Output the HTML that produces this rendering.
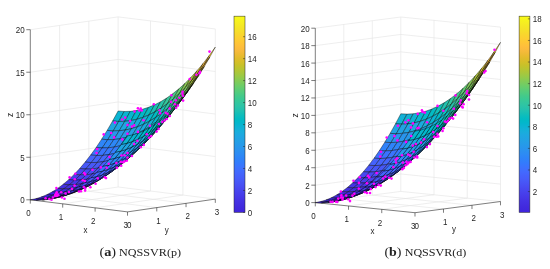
<!DOCTYPE html>
<html><head><meta charset="utf-8"><style>
html,body{margin:0;padding:0;background:#fff;}
body{width:550px;height:269px;overflow:hidden;position:relative;}
svg{position:absolute;left:0;top:0;}
svg text{font-family:"Liberation Sans",Arial,sans-serif;fill:#262626;}
svg text.cap{font-family:"Liberation Serif","Times New Roman",serif;fill:#222;}
</style></head><body>
<svg width="550" height="269" viewBox="0 0 550 269">
<g class="grid" stroke="#e2e2e2" stroke-width="0.6" fill="none">
<line x1="59.57" y1="195.53" x2="59.57" y2="25.43" stroke="#e2e2e2" stroke-width="0.6"/>
<line x1="88.84" y1="191.26" x2="88.84" y2="21.16" stroke="#e2e2e2" stroke-width="0.6"/>
<line x1="118.11" y1="186.99" x2="118.11" y2="16.89" stroke="#e2e2e2" stroke-width="0.6"/>
<line x1="30.30" y1="199.80" x2="118.11" y2="186.99" stroke="#e2e2e2" stroke-width="0.6"/>
<line x1="30.30" y1="157.28" x2="118.11" y2="144.47" stroke="#e2e2e2" stroke-width="0.6"/>
<line x1="30.30" y1="114.75" x2="118.11" y2="101.94" stroke="#e2e2e2" stroke-width="0.6"/>
<line x1="30.30" y1="72.22" x2="118.11" y2="59.41" stroke="#e2e2e2" stroke-width="0.6"/>
<line x1="30.30" y1="29.70" x2="118.11" y2="16.89" stroke="#e2e2e2" stroke-width="0.6"/>
<line x1="150.51" y1="191.02" x2="150.51" y2="20.92" stroke="#e2e2e2" stroke-width="0.6"/>
<line x1="182.91" y1="195.05" x2="182.91" y2="24.95" stroke="#e2e2e2" stroke-width="0.6"/>
<line x1="215.31" y1="199.08" x2="215.31" y2="28.98" stroke="#e2e2e2" stroke-width="0.6"/>
<line x1="118.11" y1="186.99" x2="215.31" y2="199.08" stroke="#e2e2e2" stroke-width="0.6"/>
<line x1="118.11" y1="144.47" x2="215.31" y2="156.56" stroke="#e2e2e2" stroke-width="0.6"/>
<line x1="118.11" y1="101.94" x2="215.31" y2="114.03" stroke="#e2e2e2" stroke-width="0.6"/>
<line x1="118.11" y1="59.41" x2="215.31" y2="71.50" stroke="#e2e2e2" stroke-width="0.6"/>
<line x1="118.11" y1="16.89" x2="215.31" y2="28.98" stroke="#e2e2e2" stroke-width="0.6"/>
<line x1="62.70" y1="203.83" x2="150.51" y2="191.02" stroke="#e2e2e2" stroke-width="0.6"/>
<line x1="95.10" y1="207.86" x2="182.91" y2="195.05" stroke="#e2e2e2" stroke-width="0.6"/>
<line x1="59.57" y1="195.53" x2="156.77" y2="207.62" stroke="#e2e2e2" stroke-width="0.6"/>
<line x1="88.84" y1="191.26" x2="186.04" y2="203.35" stroke="#e2e2e2" stroke-width="0.6"/>
</g>
<line x1="30.30" y1="199.80" x2="30.30" y2="29.70" stroke="#262626" stroke-width="0.6"/>
<line x1="30.30" y1="199.80" x2="127.50" y2="211.89" stroke="#262626" stroke-width="0.6"/>
<line x1="127.50" y1="211.89" x2="215.31" y2="199.08" stroke="#262626" stroke-width="0.6"/>
<line x1="30.30" y1="199.80" x2="26.30" y2="199.80" stroke="#262626" stroke-width="0.6"/>
<text transform="translate(24.70 200.00) scale(1 1.18)" font-size="8" text-anchor="end" dominant-baseline="central">0</text>
<line x1="30.30" y1="157.28" x2="26.30" y2="157.28" stroke="#262626" stroke-width="0.6"/>
<text transform="translate(24.70 157.47) scale(1 1.18)" font-size="8" text-anchor="end" dominant-baseline="central">5</text>
<line x1="30.30" y1="114.75" x2="26.30" y2="114.75" stroke="#262626" stroke-width="0.6"/>
<text transform="translate(24.70 114.95) scale(1 1.18)" font-size="8" text-anchor="end" dominant-baseline="central">10</text>
<line x1="30.30" y1="72.22" x2="26.30" y2="72.22" stroke="#262626" stroke-width="0.6"/>
<text transform="translate(24.70 72.42) scale(1 1.18)" font-size="8" text-anchor="end" dominant-baseline="central">15</text>
<line x1="30.30" y1="29.70" x2="26.30" y2="29.70" stroke="#262626" stroke-width="0.6"/>
<text transform="translate(24.70 29.90) scale(1 1.18)" font-size="8" text-anchor="end" dominant-baseline="central">20</text>
<line x1="30.30" y1="199.80" x2="30.30" y2="203.60" stroke="#262626" stroke-width="0.6"/>
<text transform="translate(28.50 212.80) scale(1 1.18)" font-size="8" text-anchor="middle" dominant-baseline="central">0</text>
<line x1="62.70" y1="203.83" x2="62.70" y2="207.63" stroke="#262626" stroke-width="0.6"/>
<text transform="translate(60.90 216.83) scale(1 1.18)" font-size="8" text-anchor="middle" dominant-baseline="central">1</text>
<line x1="95.10" y1="207.86" x2="95.10" y2="211.66" stroke="#262626" stroke-width="0.6"/>
<text transform="translate(93.30 220.86) scale(1 1.18)" font-size="8" text-anchor="middle" dominant-baseline="central">2</text>
<line x1="127.50" y1="211.89" x2="127.50" y2="215.69" stroke="#262626" stroke-width="0.6"/>
<text transform="translate(125.70 224.89) scale(1 1.18)" font-size="8" text-anchor="middle" dominant-baseline="central">3</text>
<text transform="translate(129.10 224.69) scale(1 1.18)" font-size="8" text-anchor="middle" dominant-baseline="central">0</text>
<line x1="156.77" y1="207.62" x2="156.77" y2="211.42" stroke="#262626" stroke-width="0.6"/>
<text transform="translate(158.37 220.42) scale(1 1.18)" font-size="8" text-anchor="middle" dominant-baseline="central">1</text>
<line x1="186.04" y1="203.35" x2="186.04" y2="207.15" stroke="#262626" stroke-width="0.6"/>
<text transform="translate(187.64 216.15) scale(1 1.18)" font-size="8" text-anchor="middle" dominant-baseline="central">2</text>
<line x1="215.31" y1="199.08" x2="215.31" y2="202.88" stroke="#262626" stroke-width="0.6"/>
<text transform="translate(216.91 211.88) scale(1 1.18)" font-size="8" text-anchor="middle" dominant-baseline="central">3</text>
<text transform="translate(85.60 230.10) scale(1 1.18)" font-size="8" text-anchor="middle" dominant-baseline="central">x</text>
<text transform="translate(166.70 229.50) scale(1 1.18)" font-size="8" text-anchor="middle" dominant-baseline="central">y</text>
<text transform="translate(9.50 115.00) rotate(-90) scale(1 1.18)" font-size="8.3" text-anchor="middle" dominant-baseline="central">z</text>
<g stroke="#000" stroke-width="0.4" stroke-linejoin="round">
<polygon points="112.62,121.00 118.70,121.46 124.19,111.46 118.11,111.00" fill="#0bb4d2"/>
<polygon points="107.13,130.41 113.21,130.87 118.70,121.46 112.62,121.00" fill="#1fa5e2"/>
<polygon points="118.70,121.46 124.77,121.32 130.26,111.32 124.19,111.46" fill="#09b4d1"/>
<polygon points="101.65,139.23 107.72,139.68 113.21,130.87 107.13,130.41" fill="#2895ec"/>
<polygon points="113.21,130.87 119.28,130.73 124.77,121.32 118.70,121.46" fill="#1fa6e2"/>
<polygon points="124.77,121.32 130.85,120.60 136.34,110.59 130.26,111.32" fill="#06b5cf"/>
<polygon points="96.16,147.45 102.23,147.91 107.72,139.68 101.65,139.23" fill="#2e85f8"/>
<polygon points="107.72,139.68 113.80,139.55 119.28,130.73 113.21,130.87" fill="#2896eb"/>
<polygon points="119.28,130.73 125.36,130.01 130.85,120.60 124.77,121.32" fill="#1ea7e1"/>
<polygon points="130.85,120.60 136.92,119.27 142.41,109.27 136.34,110.59" fill="#02b7cb"/>
<polygon points="90.67,155.07 96.74,155.53 102.23,147.91 96.16,147.45" fill="#3975fe"/>
<polygon points="102.23,147.91 108.31,147.77 113.80,139.55 107.72,139.68" fill="#2e86f7"/>
<polygon points="113.80,139.55 119.87,138.82 125.36,130.01 119.28,130.73" fill="#2798ea"/>
<polygon points="125.36,130.01 131.43,128.68 136.92,119.27 130.85,120.60" fill="#1baadf"/>
<polygon points="136.92,119.27 143.00,117.36 148.49,107.35 142.41,109.27" fill="#01b9c6"/>
<polygon points="96.74,155.53 102.82,155.40 108.31,147.77 102.23,147.91" fill="#3875fe"/>
<polygon points="85.18,162.11 91.26,162.57 96.74,155.53 90.67,155.07" fill="#4465fd"/>
<polygon points="108.31,147.77 114.38,147.04 119.87,138.82 113.80,139.55" fill="#2d88f6"/>
<polygon points="119.87,138.82 125.95,137.50 131.43,128.68 125.36,130.01" fill="#259be8"/>
<polygon points="131.43,128.68 137.51,126.77 143.00,117.36 136.92,119.27" fill="#18aedb"/>
<polygon points="143.00,117.36 149.07,114.85 154.56,104.85 148.49,107.35" fill="#09bcbe"/>
<polygon points="91.26,162.57 97.33,162.43 102.82,155.40 96.74,155.53" fill="#4466fd"/>
<polygon points="102.82,155.40 108.89,154.67 114.38,147.04 108.31,147.77" fill="#3678fe"/>
<polygon points="79.69,168.55 85.77,169.01 91.26,162.57 85.18,162.11" fill="#4758f8"/>
<polygon points="114.38,147.04 120.46,145.72 125.95,137.50 119.87,138.82" fill="#2d8bf3"/>
<polygon points="125.95,137.50 132.02,135.58 137.51,126.77 131.43,128.68" fill="#249fe5"/>
<polygon points="137.51,126.77 143.58,124.26 149.07,114.85 143.00,117.36" fill="#10b2d5"/>
<polygon points="149.07,114.85 155.15,111.74 160.63,101.74 154.56,104.85" fill="#1abfb5"/>
<polygon points="97.33,162.43 103.41,161.70 108.89,154.67 102.82,155.40" fill="#4368fe"/>
<polygon points="85.77,169.01 91.84,168.87 97.33,162.43 91.26,162.57" fill="#4758f8"/>
<polygon points="108.89,154.67 114.97,153.35 120.46,145.72 114.38,147.04" fill="#327cfc"/>
<polygon points="74.20,174.40 80.28,174.86 85.77,169.01 79.69,168.55" fill="#484af1"/>
<polygon points="120.46,145.72 126.53,143.80 132.02,135.58 125.95,137.50" fill="#2c90f0"/>
<polygon points="132.02,135.58 138.10,133.07 143.58,124.26 137.51,126.77" fill="#20a4e3"/>
<polygon points="143.58,124.26 149.66,121.15 155.15,111.74 149.07,114.85" fill="#04b6cd"/>
<polygon points="155.15,111.74 161.22,108.05 166.71,98.04 160.63,101.74" fill="#2ac3a9"/>
<polygon points="91.84,168.87 97.92,168.15 103.41,161.70 97.33,162.43" fill="#475af9"/>
<polygon points="103.41,161.70 109.48,160.38 114.97,153.35 108.89,154.67" fill="#416cfe"/>
<polygon points="80.28,174.86 86.36,174.72 91.84,168.87 85.77,169.01" fill="#484bf2"/>
<polygon points="114.97,153.35 121.04,151.43 126.53,143.80 120.46,145.72" fill="#2f81fa"/>
<polygon points="68.72,179.65 74.79,180.11 80.28,174.86 74.20,174.40" fill="#473fec"/>
<polygon points="126.53,143.80 132.61,141.29 138.10,133.07 132.02,135.58" fill="#2895ec"/>
<polygon points="138.10,133.07 144.17,129.97 149.66,121.15 143.58,124.26" fill="#1baadf"/>
<polygon points="149.66,121.15 155.73,117.46 161.22,108.05 155.15,111.74" fill="#03bbc2"/>
<polygon points="161.22,108.05 167.30,103.76 172.78,93.75 166.71,98.04" fill="#35c79b"/>
<polygon points="97.92,168.15 103.99,166.82 109.48,160.38 103.41,161.70" fill="#465efb"/>
<polygon points="86.36,174.72 92.43,173.99 97.92,168.15 91.84,168.87" fill="#484ef3"/>
<polygon points="109.48,160.38 115.56,158.47 121.04,151.43 114.97,153.35" fill="#3d71ff"/>
<polygon points="74.79,180.11 80.87,179.97 86.36,174.72 80.28,174.86" fill="#4740ec"/>
<polygon points="121.04,151.43 127.12,148.92 132.61,141.29 126.53,143.80" fill="#2e87f7"/>
<polygon points="63.23,184.31 69.30,184.77 74.79,180.11 68.72,179.65" fill="#4536e6"/>
<polygon points="132.61,141.29 138.68,138.19 144.17,129.97 138.10,133.07" fill="#259ce7"/>
<polygon points="144.17,129.97 150.25,126.27 155.73,117.46 149.66,121.15" fill="#13b1d7"/>
<polygon points="155.73,117.46 161.81,113.17 167.30,103.76 161.22,108.05" fill="#18bfb6"/>
<polygon points="167.30,103.76 173.37,98.87 178.86,88.87 172.78,93.75" fill="#46cb88"/>
<polygon points="92.43,173.99 98.50,172.67 103.99,166.82 97.92,168.15" fill="#4851f5"/>
<polygon points="103.99,166.82 110.07,164.91 115.56,158.47 109.48,160.38" fill="#4563fc"/>
<polygon points="80.87,179.97 86.94,179.25 92.43,173.99 86.36,174.72" fill="#4742ed"/>
<polygon points="115.56,158.47 121.63,155.96 127.12,148.92 121.04,151.43" fill="#3678fe"/>
<polygon points="69.30,184.77 75.38,184.63 80.87,179.97 74.79,180.11" fill="#4637e6"/>
<polygon points="127.12,148.92 133.19,145.82 138.68,138.19 132.61,141.29" fill="#2c8ef1"/>
<polygon points="57.74,188.38 63.82,188.83 69.30,184.77 63.23,184.31" fill="#4430e1"/>
<polygon points="138.68,138.19 144.76,134.49 150.25,126.27 144.17,129.97" fill="#21a4e3"/>
<polygon points="150.25,126.27 156.32,121.98 161.81,113.17 155.73,117.46" fill="#03b7cc"/>
<polygon points="161.81,113.17 167.88,108.28 173.37,98.87 167.30,103.76" fill="#2cc4a6"/>
<polygon points="173.37,98.87 179.45,93.39 184.94,83.39 178.86,88.87" fill="#64cd6f"/>
<polygon points="98.50,172.67 104.58,170.75 110.07,164.91 103.99,166.82" fill="#4757f7"/>
<polygon points="86.94,179.25 93.02,177.92 98.50,172.67 92.43,173.99" fill="#4846ef"/>
<polygon points="110.07,164.91 116.14,162.40 121.63,155.96 115.56,158.47" fill="#4269fe"/>
<polygon points="75.38,184.63 81.45,183.91 86.94,179.25 80.87,179.97" fill="#4639e8"/>
<polygon points="121.63,155.96 127.71,152.85 133.19,145.82 127.12,148.92" fill="#3080fa"/>
<polygon points="63.82,188.83 69.89,188.70 75.38,184.63 69.30,184.77" fill="#4430e1"/>
<polygon points="133.19,145.82 139.27,142.12 144.76,134.49 138.68,138.19" fill="#2896eb"/>
<polygon points="52.25,191.85 58.33,192.31 63.82,188.83 57.74,188.38" fill="#422bde"/>
<polygon points="144.76,134.49 150.83,130.20 156.32,121.98 150.25,126.27" fill="#1aacdd"/>
<polygon points="156.32,121.98 162.40,117.10 167.88,108.28 161.81,113.17" fill="#09bcbe"/>
<polygon points="167.88,108.28 173.96,102.80 179.45,93.39 173.37,98.87" fill="#3ac993"/>
<polygon points="179.45,93.39 185.52,87.32 191.01,77.32 184.94,83.39" fill="#89cb52"/>
<polygon points="93.02,177.92 99.09,176.01 104.58,170.75 98.50,172.67" fill="#484bf2"/>
<polygon points="104.58,170.75 110.66,168.24 116.14,162.40 110.07,164.91" fill="#465dfb"/>
<polygon points="81.45,183.91 87.53,182.58 93.02,177.92 86.94,179.25" fill="#473cea"/>
<polygon points="116.14,162.40 122.22,159.29 127.71,152.85 121.63,155.96" fill="#3c72ff"/>
<polygon points="69.89,188.70 75.97,187.97 81.45,183.91 75.38,184.63" fill="#4432e3"/>
<polygon points="127.71,152.85 133.78,149.16 139.27,142.12 133.19,145.82" fill="#2d89f6"/>
<polygon points="58.33,192.31 64.40,192.17 69.89,188.70 63.82,188.83" fill="#422bde"/>
<polygon points="139.27,142.12 145.34,137.83 150.83,130.20 144.76,134.49" fill="#249fe5"/>
<polygon points="46.76,194.73 52.84,195.19 58.33,192.31 52.25,191.85" fill="#4027dd"/>
<polygon points="150.83,130.20 156.91,125.32 162.40,117.10 156.32,121.98" fill="#0bb4d2"/>
<polygon points="162.40,117.10 168.47,111.62 173.96,102.80 167.88,108.28" fill="#25c2ae"/>
<polygon points="173.96,102.80 180.03,96.73 185.52,87.32 179.45,93.39" fill="#57cc7a"/>
<polygon points="185.52,87.32 191.60,80.66 197.08,70.65 191.01,77.32" fill="#b1c636"/>
<polygon points="99.09,176.01 105.17,173.50 110.66,168.24 104.58,170.75" fill="#4852f5"/>
<polygon points="87.53,182.58 93.60,180.67 99.09,176.01 93.02,177.92" fill="#4741ed"/>
<polygon points="110.66,168.24 116.73,165.14 122.22,159.29 116.14,162.40" fill="#4465fd"/>
<polygon points="75.97,187.97 82.04,186.65 87.53,182.58 81.45,183.91" fill="#4535e5"/>
<polygon points="122.22,159.29 128.29,155.60 133.78,149.16 127.71,152.85" fill="#327cfc"/>
<polygon points="64.40,192.17 70.48,191.44 75.97,187.97 69.89,188.70" fill="#432ddf"/>
<polygon points="133.78,149.16 139.86,144.87 145.34,137.83 139.27,142.12" fill="#2a92ee"/>
<polygon points="52.84,195.19 58.91,195.05 64.40,192.17 58.33,192.31" fill="#4028dd"/>
<polygon points="145.34,137.83 151.42,132.95 156.91,125.32 150.83,130.20" fill="#1da9e0"/>
<polygon points="41.28,197.01 47.35,197.47 52.84,195.19 46.76,194.73" fill="#3f25dc"/>
<polygon points="156.91,125.32 162.98,119.84 168.47,111.62 162.40,117.10" fill="#02bbc3"/>
<polygon points="168.47,111.62 174.55,105.55 180.03,96.73 173.96,102.80" fill="#35c79a"/>
<polygon points="180.03,96.73 186.11,90.07 191.60,80.66 185.52,87.32" fill="#7ecc5b"/>
<polygon points="191.60,80.66 197.67,73.40 203.16,63.40 197.08,70.65" fill="#d6be28"/>
<polygon points="93.60,180.67 99.68,178.16 105.17,173.50 99.09,176.01" fill="#4848f0"/>
<polygon points="105.17,173.50 111.24,170.39 116.73,165.14 110.66,168.24" fill="#475af9"/>
<polygon points="82.04,186.65 88.12,184.73 93.60,180.67 87.53,182.58" fill="#4639e8"/>
<polygon points="116.73,165.14 122.80,161.44 128.29,155.60 122.22,159.29" fill="#3f6fff"/>
<polygon points="70.48,191.44 76.55,190.12 82.04,186.65 75.97,187.97" fill="#4430e1"/>
<polygon points="128.29,155.60 134.37,151.31 139.86,144.87 133.78,149.16" fill="#2e86f7"/>
<polygon points="58.91,195.05 64.99,194.32 70.48,191.44 64.40,192.17" fill="#4129dd"/>
<polygon points="139.86,144.87 145.93,139.98 151.42,132.95 145.34,137.83" fill="#259de7"/>
<polygon points="47.35,197.47 53.43,197.34 58.91,195.05 52.84,195.19" fill="#3f25dc"/>
<polygon points="151.42,132.95 157.49,127.47 162.98,119.84 156.91,125.32" fill="#10b2d5"/>
<polygon points="35.79,198.70 41.86,199.16 47.35,197.47 41.28,197.01" fill="#3e23dc"/>
<polygon points="162.98,119.84 169.06,113.77 174.55,105.55 168.47,111.62" fill="#1fc1b1"/>
<polygon points="174.55,105.55 180.62,98.88 186.11,90.07 180.03,96.73" fill="#51cc7f"/>
<polygon points="186.11,90.07 192.18,82.81 197.67,73.40 191.60,80.66" fill="#aac73a"/>
<polygon points="197.67,73.40 203.75,65.55 209.24,55.54 203.16,63.40" fill="#f6ba3c"/>
<polygon points="99.68,178.16 105.75,175.05 111.24,170.39 105.17,173.50" fill="#4851f4"/>
<polygon points="88.12,184.73 94.19,182.22 99.68,178.16 93.60,180.67" fill="#4740ec"/>
<polygon points="111.24,170.39 117.32,166.70 122.80,161.44 116.73,165.14" fill="#4564fd"/>
<polygon points="76.55,190.12 82.63,188.21 88.12,184.73 82.04,186.65" fill="#4533e4"/>
<polygon points="122.80,161.44 128.88,157.15 134.37,151.31 128.29,155.60" fill="#347afd"/>
<polygon points="64.99,194.32 71.06,193.00 76.55,190.12 70.48,191.44" fill="#422cdf"/>
<polygon points="134.37,151.31 140.44,146.42 145.93,139.98 139.86,144.87" fill="#2b91ef"/>
<polygon points="53.43,197.34 59.50,196.61 64.99,194.32 58.91,195.05" fill="#4027dd"/>
<polygon points="145.93,139.98 152.01,134.50 157.49,127.47 151.42,132.95" fill="#1ea7e1"/>
<polygon points="41.86,199.16 47.94,199.03 53.43,197.34 47.35,197.47" fill="#3e24dc"/>
<polygon points="157.49,127.47 163.57,121.40 169.06,113.77 162.98,119.84" fill="#02bac5"/>
<polygon points="30.30,199.80 36.38,200.26 41.86,199.16 35.79,198.70" fill="#3e23dc"/>
<polygon points="169.06,113.77 175.13,107.10 180.62,98.88 174.55,105.55" fill="#34c79c"/>
<polygon points="180.62,98.88 186.70,91.62 192.18,82.81 186.11,90.07" fill="#7acc5d"/>
<polygon points="192.18,82.81 198.26,74.95 203.75,65.55 197.67,73.40" fill="#d4bf28"/>
<polygon points="203.75,65.55 209.82,57.10 215.31,47.10 209.24,55.54" fill="#fdcc32"/>
<polygon points="94.19,182.22 100.27,179.12 105.75,175.05 99.68,178.16" fill="#4848f0"/>
<polygon points="105.75,175.05 111.83,171.36 117.32,166.70 111.24,170.39" fill="#475af9"/>
<polygon points="82.63,188.21 88.70,185.70 94.19,182.22 88.12,184.73" fill="#4639e8"/>
<polygon points="117.32,166.70 123.39,162.41 128.88,157.15 122.80,161.44" fill="#3f6fff"/>
<polygon points="71.06,193.00 77.14,191.08 82.63,188.21 76.55,190.12" fill="#4430e1"/>
<polygon points="128.88,157.15 134.95,152.27 140.44,146.42 134.37,151.31" fill="#2e86f7"/>
<polygon points="59.50,196.61 65.58,195.28 71.06,193.00 64.99,194.32" fill="#4129dd"/>
<polygon points="140.44,146.42 146.52,140.94 152.01,134.50 145.93,139.98" fill="#259de7"/>
<polygon points="47.94,199.03 54.01,198.30 59.50,196.61 53.43,197.34" fill="#3f25dc"/>
<polygon points="152.01,134.50 158.08,128.43 163.57,121.40 157.49,127.47" fill="#10b2d5"/>
<polygon points="36.38,200.26 42.45,200.12 47.94,199.03 41.86,199.16" fill="#3e23dc"/>
<polygon points="163.57,121.40 169.64,114.73 175.13,107.10 169.06,113.77" fill="#1fc1b1"/>
<polygon points="175.13,107.10 181.21,99.84 186.70,91.62 180.62,98.88" fill="#51cc7f"/>
<polygon points="186.70,91.62 192.77,83.77 198.26,74.95 192.18,82.81" fill="#aac73a"/>
<polygon points="198.26,74.95 204.33,66.51 209.82,57.10 203.75,65.55" fill="#f6ba3c"/>
<polygon points="100.27,179.12 106.34,175.42 111.83,171.36 105.75,175.05" fill="#4852f5"/>
<polygon points="88.70,185.70 94.78,182.59 100.27,179.12 94.19,182.22" fill="#4741ed"/>
<polygon points="111.83,171.36 117.90,167.07 123.39,162.41 117.32,166.70" fill="#4465fd"/>
<polygon points="77.14,191.08 83.21,188.57 88.70,185.70 82.63,188.21" fill="#4535e5"/>
<polygon points="123.39,162.41 129.47,157.52 134.95,152.27 128.88,157.15" fill="#327cfc"/>
<polygon points="65.58,195.28 71.65,193.37 77.14,191.08 71.06,193.00" fill="#432ddf"/>
<polygon points="134.95,152.27 141.03,146.79 146.52,140.94 140.44,146.42" fill="#2a92ee"/>
<polygon points="54.01,198.30 60.09,196.98 65.58,195.28 59.50,196.61" fill="#4028dd"/>
<polygon points="146.52,140.94 152.59,134.87 158.08,128.43 152.01,134.50" fill="#1da9e0"/>
<polygon points="42.45,200.12 48.52,199.40 54.01,198.30 47.94,199.03" fill="#3f25dc"/>
<polygon points="158.08,128.43 164.16,121.77 169.64,114.73 163.57,121.40" fill="#02bbc3"/>
<polygon points="169.64,114.73 175.72,107.47 181.21,99.84 175.13,107.10" fill="#35c79a"/>
<polygon points="181.21,99.84 187.28,91.99 192.77,83.77 186.70,91.62" fill="#7ecc5b"/>
<polygon points="192.77,83.77 198.85,75.32 204.33,66.51 198.26,74.95" fill="#d6be28"/>
<polygon points="94.78,182.59 100.85,178.89 106.34,175.42 100.27,179.12" fill="#484bf2"/>
<polygon points="106.34,175.42 112.42,171.13 117.90,167.07 111.83,171.36" fill="#465dfb"/>
<polygon points="83.21,188.57 89.29,185.47 94.78,182.59 88.70,185.70" fill="#473cea"/>
<polygon points="117.90,167.07 123.98,162.18 129.47,157.52 123.39,162.41" fill="#3c72ff"/>
<polygon points="71.65,193.37 77.73,190.86 83.21,188.57 77.14,191.08" fill="#4432e3"/>
<polygon points="129.47,157.52 135.54,152.04 141.03,146.79 134.95,152.27" fill="#2d89f6"/>
<polygon points="60.09,196.98 66.16,195.06 71.65,193.37 65.58,195.28" fill="#422bde"/>
<polygon points="141.03,146.79 147.10,140.72 152.59,134.87 146.52,140.94" fill="#249fe5"/>
<polygon points="48.52,199.40 54.60,198.07 60.09,196.98 54.01,198.30" fill="#4027dd"/>
<polygon points="152.59,134.87 158.67,128.21 164.16,121.77 158.08,128.43" fill="#0bb4d2"/>
<polygon points="164.16,121.77 170.23,114.51 175.72,107.47 169.64,114.73" fill="#25c2ae"/>
<polygon points="175.72,107.47 181.79,99.62 187.28,91.99 181.21,99.84" fill="#57cc7a"/>
<polygon points="187.28,91.99 193.36,83.54 198.85,75.32 192.77,83.77" fill="#b1c636"/>
<polygon points="100.85,178.89 106.93,174.60 112.42,171.13 106.34,175.42" fill="#4757f7"/>
<polygon points="89.29,185.47 95.36,181.77 100.85,178.89 94.78,182.59" fill="#4846ef"/>
<polygon points="112.42,171.13 118.49,166.25 123.98,162.18 117.90,167.07" fill="#4269fe"/>
<polygon points="77.73,190.86 83.80,187.76 89.29,185.47 83.21,188.57" fill="#4639e8"/>
<polygon points="123.98,162.18 130.05,156.70 135.54,152.04 129.47,157.52" fill="#3080fa"/>
<polygon points="66.16,195.06 72.24,192.55 77.73,190.86 71.65,193.37" fill="#4430e1"/>
<polygon points="135.54,152.04 141.62,145.97 147.10,140.72 141.03,146.79" fill="#2896eb"/>
<polygon points="54.60,198.07 60.67,196.16 66.16,195.06 60.09,196.98" fill="#422bde"/>
<polygon points="147.10,140.72 153.18,134.05 158.67,128.21 152.59,134.87" fill="#1aacdd"/>
<polygon points="158.67,128.21 164.74,120.95 170.23,114.51 164.16,121.77" fill="#09bcbe"/>
<polygon points="170.23,114.51 176.31,106.65 181.79,99.62 175.72,107.47" fill="#3ac993"/>
<polygon points="181.79,99.62 187.87,91.17 193.36,83.54 187.28,91.99" fill="#89cb52"/>
<polygon points="95.36,181.77 101.44,177.48 106.93,174.60 100.85,178.89" fill="#4851f5"/>
<polygon points="106.93,174.60 113.00,169.72 118.49,166.25 112.42,171.13" fill="#4563fc"/>
<polygon points="83.80,187.76 89.88,184.06 95.36,181.77 89.29,185.47" fill="#4742ed"/>
<polygon points="118.49,166.25 124.57,160.77 130.05,156.70 123.98,162.18" fill="#3678fe"/>
<polygon points="72.24,192.55 78.31,189.45 83.80,187.76 77.73,190.86" fill="#4637e6"/>
<polygon points="130.05,156.70 136.13,150.63 141.62,145.97 135.54,152.04" fill="#2c8ef1"/>
<polygon points="60.67,196.16 66.75,193.65 72.24,192.55 66.16,195.06" fill="#4430e1"/>
<polygon points="141.62,145.97 147.69,139.31 153.18,134.05 147.10,140.72" fill="#21a4e3"/>
<polygon points="153.18,134.05 159.25,126.79 164.74,120.95 158.67,128.21" fill="#03b7cc"/>
<polygon points="164.74,120.95 170.82,113.09 176.31,106.65 170.23,114.51" fill="#2cc4a6"/>
<polygon points="176.31,106.65 182.38,98.21 187.87,91.17 181.79,99.62" fill="#64cd6f"/>
<polygon points="101.44,177.48 107.51,172.60 113.00,169.72 106.93,174.60" fill="#465efb"/>
<polygon points="89.88,184.06 95.95,179.77 101.44,177.48 95.36,181.77" fill="#484ef3"/>
<polygon points="113.00,169.72 119.08,164.24 124.57,160.77 118.49,166.25" fill="#3d71ff"/>
<polygon points="78.31,189.45 84.39,185.75 89.88,184.06 83.80,187.76" fill="#4740ec"/>
<polygon points="124.57,160.77 130.64,154.70 136.13,150.63 130.05,156.70" fill="#2e87f7"/>
<polygon points="66.75,193.65 72.83,190.54 78.31,189.45 72.24,192.55" fill="#4536e6"/>
<polygon points="136.13,150.63 142.20,143.97 147.69,139.31 141.62,145.97" fill="#259ce7"/>
<polygon points="147.69,139.31 153.77,132.05 159.25,126.79 153.18,134.05" fill="#13b1d7"/>
<polygon points="159.25,126.79 165.33,118.94 170.82,113.09 164.74,120.95" fill="#18bfb6"/>
<polygon points="170.82,113.09 176.89,104.65 182.38,98.21 176.31,106.65" fill="#46cb88"/>
<polygon points="95.95,179.77 102.03,174.88 107.51,172.60 101.44,177.48" fill="#475af9"/>
<polygon points="107.51,172.60 113.59,167.12 119.08,164.24 113.00,169.72" fill="#416cfe"/>
<polygon points="84.39,185.75 90.46,181.46 95.95,179.77 89.88,184.06" fill="#484bf2"/>
<polygon points="119.08,164.24 125.15,158.17 130.64,154.70 124.57,160.77" fill="#2f81fa"/>
<polygon points="72.83,190.54 78.90,186.85 84.39,185.75 78.31,189.45" fill="#473fec"/>
<polygon points="130.64,154.70 136.72,148.03 142.20,143.97 136.13,150.63" fill="#2895ec"/>
<polygon points="142.20,143.97 148.28,136.71 153.77,132.05 147.69,139.31" fill="#1baadf"/>
<polygon points="153.77,132.05 159.84,124.19 165.33,118.94 159.25,126.79" fill="#03bbc2"/>
<polygon points="165.33,118.94 171.40,110.49 176.89,104.65 170.82,113.09" fill="#35c79b"/>
<polygon points="102.03,174.88 108.10,169.41 113.59,167.12 107.51,172.60" fill="#4368fe"/>
<polygon points="90.46,181.46 96.54,176.57 102.03,174.88 95.95,179.77" fill="#4758f8"/>
<polygon points="113.59,167.12 119.66,161.05 125.15,158.17 119.08,164.24" fill="#327cfc"/>
<polygon points="78.90,186.85 84.97,182.56 90.46,181.46 84.39,185.75" fill="#484af1"/>
<polygon points="125.15,158.17 131.23,151.50 136.72,148.03 130.64,154.70" fill="#2c90f0"/>
<polygon points="136.72,148.03 142.79,140.77 148.28,136.71 142.20,143.97" fill="#20a4e3"/>
<polygon points="148.28,136.71 154.35,128.85 159.84,124.19 153.77,132.05" fill="#04b6cd"/>
<polygon points="159.84,124.19 165.92,115.75 171.40,110.49 165.33,118.94" fill="#2ac3a9"/>
<polygon points="96.54,176.57 102.61,171.10 108.10,169.41 102.03,174.88" fill="#4466fd"/>
<polygon points="108.10,169.41 114.18,163.33 119.66,161.05 113.59,167.12" fill="#3678fe"/>
<polygon points="84.97,182.56 91.05,177.67 96.54,176.57 90.46,181.46" fill="#4758f8"/>
<polygon points="119.66,161.05 125.74,154.38 131.23,151.50 125.15,158.17" fill="#2d8bf3"/>
<polygon points="131.23,151.50 137.30,144.25 142.79,140.77 136.72,148.03" fill="#249fe5"/>
<polygon points="142.79,140.77 148.87,132.92 154.35,128.85 148.28,136.71" fill="#10b2d5"/>
<polygon points="154.35,128.85 160.43,120.41 165.92,115.75 159.84,124.19" fill="#1abfb5"/>
<polygon points="102.61,171.10 108.69,165.02 114.18,163.33 108.10,169.41" fill="#3875fe"/>
<polygon points="91.05,177.67 97.12,172.19 102.61,171.10 96.54,176.57" fill="#4465fd"/>
<polygon points="114.18,163.33 120.25,156.67 125.74,154.38 119.66,161.05" fill="#2d88f6"/>
<polygon points="125.74,154.38 131.81,147.12 137.30,144.25 131.23,151.50" fill="#259be8"/>
<polygon points="137.30,144.25 143.38,136.39 148.87,132.92 142.79,140.77" fill="#18aedb"/>
<polygon points="148.87,132.92 154.94,124.47 160.43,120.41 154.35,128.85" fill="#09bcbe"/>
<polygon points="97.12,172.19 103.20,166.12 108.69,165.02 102.61,171.10" fill="#3975fe"/>
<polygon points="108.69,165.02 114.76,158.36 120.25,156.67 114.18,163.33" fill="#2e86f7"/>
<polygon points="120.25,156.67 126.33,149.41 131.81,147.12 125.74,154.38" fill="#2798ea"/>
<polygon points="131.81,147.12 137.89,139.27 143.38,136.39 137.30,144.25" fill="#1baadf"/>
<polygon points="143.38,136.39 149.45,127.95 154.94,124.47 148.87,132.92" fill="#01b9c6"/>
<polygon points="103.20,166.12 109.27,159.46 114.76,158.36 108.69,165.02" fill="#2e85f8"/>
<polygon points="114.76,158.36 120.84,151.10 126.33,149.41 120.25,156.67" fill="#2896eb"/>
<polygon points="126.33,149.41 132.40,141.56 137.89,139.27 131.81,147.12" fill="#1ea7e1"/>
<polygon points="137.89,139.27 143.96,130.82 149.45,127.95 143.38,136.39" fill="#02b7cb"/>
<polygon points="109.27,159.46 115.35,152.20 120.84,151.10 114.76,158.36" fill="#2895ec"/>
<polygon points="120.84,151.10 126.91,143.25 132.40,141.56 126.33,149.41" fill="#1fa6e2"/>
<polygon points="132.40,141.56 138.48,133.11 143.96,130.82 137.89,139.27" fill="#06b5cf"/>
<polygon points="115.35,152.20 121.42,144.34 126.91,143.25 120.84,151.10" fill="#1fa5e2"/>
<polygon points="126.91,143.25 132.99,134.80 138.48,133.11 132.40,141.56" fill="#09b4d1"/>
<polygon points="121.42,144.34 127.50,135.90 132.99,134.80 126.91,143.25" fill="#0bb4d2"/>
</g>
<g fill="#ff00ff">
<circle cx="69.6" cy="177.4" r="1.3"/>
<circle cx="75.4" cy="173.8" r="1.3"/>
<circle cx="84.2" cy="173.0" r="1.3"/>
<circle cx="85.2" cy="174.4" r="1.3"/>
<circle cx="74.8" cy="179.3" r="1.3"/>
<circle cx="82.8" cy="180.3" r="1.3"/>
<circle cx="74.6" cy="185.6" r="1.3"/>
<circle cx="71.9" cy="188.9" r="1.3"/>
<circle cx="68.9" cy="192.0" r="1.3"/>
<circle cx="56.4" cy="188.1" r="1.3"/>
<circle cx="56.7" cy="192.3" r="1.3"/>
<circle cx="61.2" cy="192.3" r="1.3"/>
<circle cx="65.6" cy="193.5" r="1.3"/>
<circle cx="58.2" cy="195.2" r="1.3"/>
<circle cx="55.2" cy="196.0" r="1.3"/>
<circle cx="53.0" cy="197.5" r="1.3"/>
<circle cx="61.9" cy="197.5" r="1.3"/>
<circle cx="64.5" cy="198.7" r="1.3"/>
<circle cx="49.3" cy="199.0" r="1.3"/>
<circle cx="51.5" cy="199.7" r="1.3"/>
<circle cx="45.6" cy="198.2" r="1.3"/>
<circle cx="79.0" cy="191.5" r="1.3"/>
<circle cx="81.0" cy="191.3" r="1.3"/>
<circle cx="85.2" cy="188.6" r="1.3"/>
<circle cx="85.1" cy="190.6" r="1.3"/>
<circle cx="92.5" cy="169.8" r="1.3"/>
<circle cx="84.8" cy="181.0" r="1.3"/>
<circle cx="97.8" cy="178.4" r="1.3"/>
<circle cx="104.8" cy="177.3" r="1.3"/>
<circle cx="106.0" cy="178.1" r="1.3"/>
<circle cx="95.6" cy="183.8" r="1.3"/>
<circle cx="90.4" cy="187.3" r="1.3"/>
<circle cx="100.8" cy="167.4" r="1.3"/>
<circle cx="106.7" cy="167.8" r="1.3"/>
<circle cx="108.7" cy="163.7" r="1.3"/>
<circle cx="116.4" cy="163.1" r="1.3"/>
<circle cx="116.9" cy="167.7" r="1.3"/>
<circle cx="121.2" cy="165.8" r="1.3"/>
<circle cx="123.1" cy="162.2" r="1.3"/>
<circle cx="126.8" cy="160.7" r="1.3"/>
<circle cx="103.7" cy="134.4" r="1.3"/>
<circle cx="111.1" cy="133.0" r="1.3"/>
<circle cx="114.1" cy="137.4" r="1.3"/>
<circle cx="127.5" cy="133.8" r="1.3"/>
<circle cx="137.9" cy="131.9" r="1.3"/>
<circle cx="146.8" cy="134.2" r="1.3"/>
<circle cx="149.0" cy="137.7" r="1.3"/>
<circle cx="151.2" cy="136.1" r="1.3"/>
<circle cx="156.6" cy="131.6" r="1.3"/>
<circle cx="122.3" cy="139.4" r="1.3"/>
<circle cx="137.4" cy="140.9" r="1.3"/>
<circle cx="134.1" cy="144.0" r="1.3"/>
<circle cx="143.8" cy="144.9" r="1.3"/>
<circle cx="140.8" cy="147.3" r="1.3"/>
<circle cx="127.5" cy="153.0" r="1.3"/>
<circle cx="121.5" cy="155.5" r="1.3"/>
<circle cx="124.5" cy="155.2" r="1.3"/>
<circle cx="127.5" cy="157.5" r="1.3"/>
<circle cx="131.9" cy="156.0" r="1.3"/>
<circle cx="109.5" cy="157.0" r="1.3"/>
<circle cx="120.8" cy="161.9" r="1.3"/>
<circle cx="124.5" cy="161.2" r="1.3"/>
<circle cx="153.8" cy="104.3" r="1.3"/>
<circle cx="171.4" cy="95.2" r="1.3"/>
<circle cx="182.7" cy="91.7" r="1.3"/>
<circle cx="183.1" cy="95.7" r="1.3"/>
<circle cx="179.4" cy="97.8" r="1.3"/>
<circle cx="183.1" cy="100.6" r="1.3"/>
<circle cx="175.8" cy="100.3" r="1.3"/>
<circle cx="171.1" cy="101.9" r="1.3"/>
<circle cx="174.9" cy="104.2" r="1.3"/>
<circle cx="177.9" cy="105.6" r="1.3"/>
<circle cx="176.2" cy="107.8" r="1.3"/>
<circle cx="169.7" cy="108.6" r="1.3"/>
<circle cx="159.6" cy="110.3" r="1.3"/>
<circle cx="160.1" cy="113.3" r="1.3"/>
<circle cx="165.7" cy="112.8" r="1.3"/>
<circle cx="169.8" cy="116.0" r="1.3"/>
<circle cx="166.7" cy="119.0" r="1.3"/>
<circle cx="162.3" cy="121.9" r="1.3"/>
<circle cx="158.9" cy="124.0" r="1.3"/>
<circle cx="143.5" cy="120.3" r="1.3"/>
<circle cx="149.9" cy="125.7" r="1.3"/>
<circle cx="141.8" cy="110.5" r="1.3"/>
<circle cx="158.6" cy="128.9" r="1.3"/>
<circle cx="140.7" cy="108.6" r="1.3"/>
<circle cx="137.9" cy="108.2" r="1.3"/>
<circle cx="139.4" cy="110.6" r="1.3"/>
<circle cx="134.6" cy="111.4" r="1.3"/>
<circle cx="125.2" cy="117.5" r="1.3"/>
<circle cx="122.2" cy="119.5" r="1.3"/>
<circle cx="114.9" cy="122.6" r="1.3"/>
<circle cx="130.1" cy="121.1" r="1.3"/>
<circle cx="127.5" cy="125.0" r="1.3"/>
<circle cx="131.9" cy="126.6" r="1.3"/>
<circle cx="134.1" cy="125.4" r="1.3"/>
<circle cx="209.5" cy="51.6" r="1.3"/>
<circle cx="199.4" cy="73.2" r="1.3"/>
<circle cx="200.1" cy="71.9" r="1.3"/>
<circle cx="196.4" cy="74.7" r="1.3"/>
<circle cx="189.7" cy="79.1" r="1.3"/>
<circle cx="182.3" cy="93.8" r="1.3"/>
<circle cx="97.2" cy="149.0" r="1.3"/>
<circle cx="96.6" cy="153.0" r="1.3"/>
<circle cx="167.5" cy="113.7" r="1.3"/>
<circle cx="164.6" cy="120.4" r="1.3"/>
<circle cx="83.8" cy="187.1" r="1.3"/>
<circle cx="56.0" cy="193.8" r="1.3"/>
<circle cx="56.8" cy="196.0" r="1.3"/>
<circle cx="55.2" cy="195.0" r="1.3"/>
<circle cx="57.9" cy="194.6" r="1.3"/>
</g>
<defs><linearGradient id="cb0" x1="0" y1="1" x2="0" y2="0"><stop offset="0.0000" stop-color="#3e23dc"/><stop offset="0.0156" stop-color="#4027dd"/><stop offset="0.0312" stop-color="#422bde"/><stop offset="0.0469" stop-color="#432fe1"/><stop offset="0.0625" stop-color="#4533e4"/><stop offset="0.0781" stop-color="#4639e8"/><stop offset="0.0938" stop-color="#473eeb"/><stop offset="0.1094" stop-color="#4744ee"/><stop offset="0.1250" stop-color="#484af1"/><stop offset="0.1406" stop-color="#4851f4"/><stop offset="0.1562" stop-color="#4757f7"/><stop offset="0.1719" stop-color="#475dfa"/><stop offset="0.1875" stop-color="#4562fc"/><stop offset="0.2031" stop-color="#4368fe"/><stop offset="0.2188" stop-color="#3f6efe"/><stop offset="0.2344" stop-color="#3a74fe"/><stop offset="0.2500" stop-color="#347afd"/><stop offset="0.2656" stop-color="#3080fa"/><stop offset="0.2812" stop-color="#2e85f8"/><stop offset="0.2969" stop-color="#2d8bf4"/><stop offset="0.3125" stop-color="#2c90f0"/><stop offset="0.3281" stop-color="#2895ec"/><stop offset="0.3438" stop-color="#269ae9"/><stop offset="0.3594" stop-color="#249ee6"/><stop offset="0.3750" stop-color="#21a3e3"/><stop offset="0.3906" stop-color="#1ea7e1"/><stop offset="0.4062" stop-color="#1aacdd"/><stop offset="0.4219" stop-color="#14b0d8"/><stop offset="0.4375" stop-color="#0cb3d3"/><stop offset="0.4531" stop-color="#04b6cd"/><stop offset="0.4688" stop-color="#01b9c6"/><stop offset="0.4844" stop-color="#07bcc0"/><stop offset="0.5000" stop-color="#12beb9"/><stop offset="0.5156" stop-color="#1ec0b2"/><stop offset="0.5312" stop-color="#28c2ab"/><stop offset="0.5469" stop-color="#2ec5a4"/><stop offset="0.5625" stop-color="#34c79c"/><stop offset="0.5781" stop-color="#3ac993"/><stop offset="0.5938" stop-color="#44ca8a"/><stop offset="0.6094" stop-color="#4fcc80"/><stop offset="0.6250" stop-color="#5ccc76"/><stop offset="0.6406" stop-color="#69cd6b"/><stop offset="0.6562" stop-color="#77cc60"/><stop offset="0.6719" stop-color="#85cb55"/><stop offset="0.6875" stop-color="#94ca4a"/><stop offset="0.7031" stop-color="#a2c840"/><stop offset="0.7188" stop-color="#afc637"/><stop offset="0.7344" stop-color="#bcc42f"/><stop offset="0.7500" stop-color="#c8c129"/><stop offset="0.7656" stop-color="#d4bf28"/><stop offset="0.7812" stop-color="#debc2a"/><stop offset="0.7969" stop-color="#e8bb2f"/><stop offset="0.8125" stop-color="#f1ba37"/><stop offset="0.8281" stop-color="#f9bb3d"/><stop offset="0.8438" stop-color="#febe3c"/><stop offset="0.8594" stop-color="#fec437"/><stop offset="0.8750" stop-color="#feca33"/><stop offset="0.8906" stop-color="#fcd030"/><stop offset="0.9062" stop-color="#f9d62d"/><stop offset="0.9219" stop-color="#f7dd2a"/><stop offset="0.9375" stop-color="#f5e327"/><stop offset="0.9531" stop-color="#f5e924"/><stop offset="0.9688" stop-color="#f6ef20"/><stop offset="0.9844" stop-color="#f7f51b"/><stop offset="1.0000" stop-color="#f9fb15"/></linearGradient></defs>
<rect x="234.0" y="16.15" width="11.00" height="196.25" fill="url(#cb0)" stroke="#262626" stroke-width="0.5"/>
<line x1="243.00" y1="212.40" x2="245.00" y2="212.40" stroke="#262626" stroke-width="0.5"/>
<text transform="translate(247.80 212.60) scale(1 1.18)" font-size="8" text-anchor="start" dominant-baseline="central">0</text>
<line x1="243.00" y1="190.44" x2="245.00" y2="190.44" stroke="#262626" stroke-width="0.5"/>
<text transform="translate(247.80 190.64) scale(1 1.18)" font-size="8" text-anchor="start" dominant-baseline="central">2</text>
<line x1="243.00" y1="168.47" x2="245.00" y2="168.47" stroke="#262626" stroke-width="0.5"/>
<text transform="translate(247.80 168.67) scale(1 1.18)" font-size="8" text-anchor="start" dominant-baseline="central">4</text>
<line x1="243.00" y1="146.51" x2="245.00" y2="146.51" stroke="#262626" stroke-width="0.5"/>
<text transform="translate(247.80 146.71) scale(1 1.18)" font-size="8" text-anchor="start" dominant-baseline="central">6</text>
<line x1="243.00" y1="124.54" x2="245.00" y2="124.54" stroke="#262626" stroke-width="0.5"/>
<text transform="translate(247.80 124.74) scale(1 1.18)" font-size="8" text-anchor="start" dominant-baseline="central">8</text>
<line x1="243.00" y1="102.58" x2="245.00" y2="102.58" stroke="#262626" stroke-width="0.5"/>
<text transform="translate(247.80 102.78) scale(1 1.18)" font-size="8" text-anchor="start" dominant-baseline="central">10</text>
<line x1="243.00" y1="80.61" x2="245.00" y2="80.61" stroke="#262626" stroke-width="0.5"/>
<text transform="translate(247.80 80.81) scale(1 1.18)" font-size="8" text-anchor="start" dominant-baseline="central">12</text>
<line x1="243.00" y1="58.65" x2="245.00" y2="58.65" stroke="#262626" stroke-width="0.5"/>
<text transform="translate(247.80 58.85) scale(1 1.18)" font-size="8" text-anchor="start" dominant-baseline="central">14</text>
<line x1="243.00" y1="36.69" x2="245.00" y2="36.69" stroke="#262626" stroke-width="0.5"/>
<text transform="translate(247.80 36.89) scale(1 1.18)" font-size="8" text-anchor="start" dominant-baseline="central">16</text>
<g class="grid" stroke="#e2e2e2" stroke-width="0.6" fill="none">
<line x1="343.80" y1="198.87" x2="343.80" y2="24.47" stroke="#e2e2e2" stroke-width="0.6"/>
<line x1="372.30" y1="195.14" x2="372.30" y2="20.74" stroke="#e2e2e2" stroke-width="0.6"/>
<line x1="400.80" y1="191.41" x2="400.80" y2="17.01" stroke="#e2e2e2" stroke-width="0.6"/>
<line x1="315.30" y1="202.60" x2="400.80" y2="191.41" stroke="#e2e2e2" stroke-width="0.6"/>
<line x1="315.30" y1="185.16" x2="400.80" y2="173.97" stroke="#e2e2e2" stroke-width="0.6"/>
<line x1="315.30" y1="167.72" x2="400.80" y2="156.53" stroke="#e2e2e2" stroke-width="0.6"/>
<line x1="315.30" y1="150.28" x2="400.80" y2="139.09" stroke="#e2e2e2" stroke-width="0.6"/>
<line x1="315.30" y1="132.84" x2="400.80" y2="121.65" stroke="#e2e2e2" stroke-width="0.6"/>
<line x1="315.30" y1="115.40" x2="400.80" y2="104.21" stroke="#e2e2e2" stroke-width="0.6"/>
<line x1="315.30" y1="97.96" x2="400.80" y2="86.77" stroke="#e2e2e2" stroke-width="0.6"/>
<line x1="315.30" y1="80.52" x2="400.80" y2="69.33" stroke="#e2e2e2" stroke-width="0.6"/>
<line x1="315.30" y1="63.08" x2="400.80" y2="51.89" stroke="#e2e2e2" stroke-width="0.6"/>
<line x1="315.30" y1="45.64" x2="400.80" y2="34.45" stroke="#e2e2e2" stroke-width="0.6"/>
<line x1="315.30" y1="28.20" x2="400.80" y2="17.01" stroke="#e2e2e2" stroke-width="0.6"/>
<line x1="434.03" y1="194.78" x2="434.03" y2="20.38" stroke="#e2e2e2" stroke-width="0.6"/>
<line x1="467.26" y1="198.15" x2="467.26" y2="23.75" stroke="#e2e2e2" stroke-width="0.6"/>
<line x1="500.49" y1="201.52" x2="500.49" y2="27.12" stroke="#e2e2e2" stroke-width="0.6"/>
<line x1="400.80" y1="191.41" x2="500.49" y2="201.52" stroke="#e2e2e2" stroke-width="0.6"/>
<line x1="400.80" y1="173.97" x2="500.49" y2="184.08" stroke="#e2e2e2" stroke-width="0.6"/>
<line x1="400.80" y1="156.53" x2="500.49" y2="166.64" stroke="#e2e2e2" stroke-width="0.6"/>
<line x1="400.80" y1="139.09" x2="500.49" y2="149.20" stroke="#e2e2e2" stroke-width="0.6"/>
<line x1="400.80" y1="121.65" x2="500.49" y2="131.76" stroke="#e2e2e2" stroke-width="0.6"/>
<line x1="400.80" y1="104.21" x2="500.49" y2="114.32" stroke="#e2e2e2" stroke-width="0.6"/>
<line x1="400.80" y1="86.77" x2="500.49" y2="96.88" stroke="#e2e2e2" stroke-width="0.6"/>
<line x1="400.80" y1="69.33" x2="500.49" y2="79.44" stroke="#e2e2e2" stroke-width="0.6"/>
<line x1="400.80" y1="51.89" x2="500.49" y2="62.00" stroke="#e2e2e2" stroke-width="0.6"/>
<line x1="400.80" y1="34.45" x2="500.49" y2="44.56" stroke="#e2e2e2" stroke-width="0.6"/>
<line x1="400.80" y1="17.01" x2="500.49" y2="27.12" stroke="#e2e2e2" stroke-width="0.6"/>
<line x1="348.53" y1="205.97" x2="434.03" y2="194.78" stroke="#e2e2e2" stroke-width="0.6"/>
<line x1="381.76" y1="209.34" x2="467.26" y2="198.15" stroke="#e2e2e2" stroke-width="0.6"/>
<line x1="343.80" y1="198.87" x2="443.49" y2="208.98" stroke="#e2e2e2" stroke-width="0.6"/>
<line x1="372.30" y1="195.14" x2="471.99" y2="205.25" stroke="#e2e2e2" stroke-width="0.6"/>
</g>
<line x1="315.30" y1="202.60" x2="315.30" y2="28.20" stroke="#262626" stroke-width="0.6"/>
<line x1="315.30" y1="202.60" x2="414.99" y2="212.71" stroke="#262626" stroke-width="0.6"/>
<line x1="414.99" y1="212.71" x2="500.49" y2="201.52" stroke="#262626" stroke-width="0.6"/>
<line x1="315.30" y1="202.60" x2="311.30" y2="202.60" stroke="#262626" stroke-width="0.6"/>
<text transform="translate(309.70 202.80) scale(1 1.18)" font-size="8" text-anchor="end" dominant-baseline="central">0</text>
<line x1="315.30" y1="185.16" x2="311.30" y2="185.16" stroke="#262626" stroke-width="0.6"/>
<text transform="translate(309.70 185.36) scale(1 1.18)" font-size="8" text-anchor="end" dominant-baseline="central">2</text>
<line x1="315.30" y1="167.72" x2="311.30" y2="167.72" stroke="#262626" stroke-width="0.6"/>
<text transform="translate(309.70 167.92) scale(1 1.18)" font-size="8" text-anchor="end" dominant-baseline="central">4</text>
<line x1="315.30" y1="150.28" x2="311.30" y2="150.28" stroke="#262626" stroke-width="0.6"/>
<text transform="translate(309.70 150.48) scale(1 1.18)" font-size="8" text-anchor="end" dominant-baseline="central">6</text>
<line x1="315.30" y1="132.84" x2="311.30" y2="132.84" stroke="#262626" stroke-width="0.6"/>
<text transform="translate(309.70 133.04) scale(1 1.18)" font-size="8" text-anchor="end" dominant-baseline="central">8</text>
<line x1="315.30" y1="115.40" x2="311.30" y2="115.40" stroke="#262626" stroke-width="0.6"/>
<text transform="translate(309.70 115.60) scale(1 1.18)" font-size="8" text-anchor="end" dominant-baseline="central">10</text>
<line x1="315.30" y1="97.96" x2="311.30" y2="97.96" stroke="#262626" stroke-width="0.6"/>
<text transform="translate(309.70 98.16) scale(1 1.18)" font-size="8" text-anchor="end" dominant-baseline="central">12</text>
<line x1="315.30" y1="80.52" x2="311.30" y2="80.52" stroke="#262626" stroke-width="0.6"/>
<text transform="translate(309.70 80.72) scale(1 1.18)" font-size="8" text-anchor="end" dominant-baseline="central">14</text>
<line x1="315.30" y1="63.08" x2="311.30" y2="63.08" stroke="#262626" stroke-width="0.6"/>
<text transform="translate(309.70 63.28) scale(1 1.18)" font-size="8" text-anchor="end" dominant-baseline="central">16</text>
<line x1="315.30" y1="45.64" x2="311.30" y2="45.64" stroke="#262626" stroke-width="0.6"/>
<text transform="translate(309.70 45.84) scale(1 1.18)" font-size="8" text-anchor="end" dominant-baseline="central">18</text>
<line x1="315.30" y1="28.20" x2="311.30" y2="28.20" stroke="#262626" stroke-width="0.6"/>
<text transform="translate(309.70 28.40) scale(1 1.18)" font-size="8" text-anchor="end" dominant-baseline="central">20</text>
<line x1="315.30" y1="202.60" x2="315.30" y2="206.40" stroke="#262626" stroke-width="0.6"/>
<text transform="translate(313.50 215.60) scale(1 1.18)" font-size="8" text-anchor="middle" dominant-baseline="central">0</text>
<line x1="348.53" y1="205.97" x2="348.53" y2="209.77" stroke="#262626" stroke-width="0.6"/>
<text transform="translate(346.73 218.97) scale(1 1.18)" font-size="8" text-anchor="middle" dominant-baseline="central">1</text>
<line x1="381.76" y1="209.34" x2="381.76" y2="213.14" stroke="#262626" stroke-width="0.6"/>
<text transform="translate(379.96 222.34) scale(1 1.18)" font-size="8" text-anchor="middle" dominant-baseline="central">2</text>
<line x1="414.99" y1="212.71" x2="414.99" y2="216.51" stroke="#262626" stroke-width="0.6"/>
<text transform="translate(413.19 225.71) scale(1 1.18)" font-size="8" text-anchor="middle" dominant-baseline="central">3</text>
<text transform="translate(416.59 225.51) scale(1 1.18)" font-size="8" text-anchor="middle" dominant-baseline="central">0</text>
<line x1="443.49" y1="208.98" x2="443.49" y2="212.78" stroke="#262626" stroke-width="0.6"/>
<text transform="translate(445.09 221.78) scale(1 1.18)" font-size="8" text-anchor="middle" dominant-baseline="central">1</text>
<line x1="471.99" y1="205.25" x2="471.99" y2="209.05" stroke="#262626" stroke-width="0.6"/>
<text transform="translate(473.59 218.05) scale(1 1.18)" font-size="8" text-anchor="middle" dominant-baseline="central">2</text>
<line x1="500.49" y1="201.52" x2="500.49" y2="205.32" stroke="#262626" stroke-width="0.6"/>
<text transform="translate(502.09 214.32) scale(1 1.18)" font-size="8" text-anchor="middle" dominant-baseline="central">3</text>
<text transform="translate(372.50 231.00) scale(1 1.18)" font-size="8" text-anchor="middle" dominant-baseline="central">x</text>
<text transform="translate(454.00 229.20) scale(1 1.18)" font-size="8" text-anchor="middle" dominant-baseline="central">y</text>
<text transform="translate(294.50 115.40) rotate(-90) scale(1 1.18)" font-size="8.3" text-anchor="middle" dominant-baseline="central">z</text>
<g stroke="#000" stroke-width="0.4" stroke-linejoin="round">
<polygon points="395.46,123.89 401.69,124.20 407.03,114.11 400.80,113.79" fill="#12b1d7"/>
<polygon points="401.69,124.20 407.92,123.88 413.26,113.78 407.03,114.11" fill="#12b1d6"/>
<polygon points="390.11,133.38 396.34,133.70 401.69,124.20 395.46,123.89" fill="#22a2e4"/>
<polygon points="407.92,123.88 414.15,122.92 419.49,112.82 413.26,113.78" fill="#0eb2d4"/>
<polygon points="396.34,133.70 402.57,133.37 407.92,123.88 401.69,124.20" fill="#22a2e4"/>
<polygon points="384.77,142.27 391.00,142.58 396.34,133.70 390.11,133.38" fill="#2b92ee"/>
<polygon points="414.15,122.92 420.38,121.32 425.72,111.22 419.49,112.82" fill="#08b5d0"/>
<polygon points="402.57,133.37 408.80,132.41 414.15,122.92 407.92,123.88" fill="#20a4e3"/>
<polygon points="391.00,142.58 397.23,142.26 402.57,133.37 396.34,133.70" fill="#2a93ee"/>
<polygon points="379.43,150.55 385.66,150.86 391.00,142.58 384.77,142.27" fill="#2f82fa"/>
<polygon points="420.38,121.32 426.61,119.09 431.95,108.99 425.72,111.22" fill="#02b7cb"/>
<polygon points="408.80,132.41 415.04,130.81 420.38,121.32 414.15,122.92" fill="#1ea7e1"/>
<polygon points="397.23,142.26 403.46,141.30 408.80,132.41 402.57,133.37" fill="#2995ec"/>
<polygon points="385.66,150.86 391.89,150.54 397.23,142.26 391.00,142.58" fill="#2e83f9"/>
<polygon points="374.08,158.22 380.31,158.53 385.66,150.86 379.43,150.55" fill="#3c71ff"/>
<polygon points="426.61,119.09 432.84,116.22 438.18,106.12 431.95,108.99" fill="#02bbc3"/>
<polygon points="415.04,130.81 421.27,128.58 426.61,119.09 420.38,121.32" fill="#1babde"/>
<polygon points="403.46,141.30 409.69,139.70 415.04,130.81 408.80,132.41" fill="#2798ea"/>
<polygon points="391.89,150.54 398.12,149.58 403.46,141.30 397.23,142.26" fill="#2e85f8"/>
<polygon points="380.31,158.53 386.54,158.21 391.89,150.54 385.66,150.86" fill="#3b72ff"/>
<polygon points="368.74,165.29 374.97,165.60 380.31,158.53 374.08,158.22" fill="#4562fc"/>
<polygon points="432.84,116.22 439.07,112.71 444.41,102.61 438.18,106.12" fill="#11beba"/>
<polygon points="421.27,128.58 427.50,125.71 432.84,116.22 426.61,119.09" fill="#15afd8"/>
<polygon points="409.69,139.70 415.92,137.47 421.27,128.58 415.04,130.81" fill="#259ce7"/>
<polygon points="398.12,149.58 404.35,147.98 409.69,139.70 403.46,141.30" fill="#2d88f6"/>
<polygon points="386.54,158.21 392.77,157.25 398.12,149.58 391.89,150.54" fill="#3974fe"/>
<polygon points="374.97,165.60 381.20,165.28 386.54,158.21 380.31,158.53" fill="#4563fc"/>
<polygon points="363.39,171.75 369.62,172.06 374.97,165.60 368.74,165.29" fill="#4755f6"/>
<polygon points="439.07,112.71 445.30,108.56 450.64,98.46 444.41,102.61" fill="#24c2ae"/>
<polygon points="427.50,125.71 433.73,122.20 439.07,112.71 432.84,116.22" fill="#08b4d1"/>
<polygon points="415.92,137.47 422.15,134.59 427.50,125.71 421.27,128.58" fill="#22a1e4"/>
<polygon points="404.35,147.98 410.58,145.74 415.92,137.47 409.69,139.70" fill="#2d8df2"/>
<polygon points="392.77,157.25 399.00,155.65 404.35,147.98 398.12,149.58" fill="#3578fd"/>
<polygon points="381.20,165.28 387.43,164.32 392.77,157.25 386.54,158.21" fill="#4465fd"/>
<polygon points="369.62,172.06 375.86,171.74 381.20,165.28 374.97,165.60" fill="#4756f7"/>
<polygon points="358.05,177.60 364.28,177.91 369.62,172.06 363.39,171.75" fill="#4848f0"/>
<polygon points="433.73,122.20 439.96,118.05 445.30,108.56 439.07,112.71" fill="#01b9c6"/>
<polygon points="445.30,108.56 451.53,103.78 456.88,93.68 450.64,98.46" fill="#31c6a0"/>
<polygon points="422.15,134.59 428.38,131.08 433.73,122.20 427.50,125.71" fill="#1da8e0"/>
<polygon points="410.58,145.74 416.81,142.87 422.15,134.59 415.92,137.47" fill="#2a93ee"/>
<polygon points="399.00,155.65 405.23,153.42 410.58,145.74 404.35,147.98" fill="#317efb"/>
<polygon points="387.43,164.32 393.66,162.72 399.00,155.65 392.77,157.25" fill="#4269fe"/>
<polygon points="375.86,171.74 382.09,170.78 387.43,164.32 381.20,165.28" fill="#4758f8"/>
<polygon points="364.28,177.91 370.51,177.59 375.86,171.74 369.62,172.06" fill="#4849f1"/>
<polygon points="352.71,182.85 358.94,183.16 364.28,177.91 358.05,177.60" fill="#473dea"/>
<polygon points="439.96,118.05 446.19,113.27 451.53,103.78 445.30,108.56" fill="#11beb9"/>
<polygon points="428.38,131.08 434.61,126.94 439.96,118.05 433.73,122.20" fill="#16afda"/>
<polygon points="451.53,103.78 457.76,98.36 463.11,88.26 456.88,93.68" fill="#40ca8d"/>
<polygon points="416.81,142.87 423.04,139.36 428.38,131.08 422.15,134.59" fill="#269ae9"/>
<polygon points="405.23,153.42 411.47,150.55 416.81,142.87 410.58,145.74" fill="#2e84f8"/>
<polygon points="393.66,162.72 399.89,160.48 405.23,153.42 399.00,155.65" fill="#3f6eff"/>
<polygon points="382.09,170.78 388.32,169.18 393.66,162.72 387.43,164.32" fill="#475cfa"/>
<polygon points="370.51,177.59 376.74,176.63 382.09,170.78 375.86,171.74" fill="#484bf2"/>
<polygon points="358.94,183.16 365.17,182.84 370.51,177.59 364.28,177.91" fill="#473eeb"/>
<polygon points="347.36,187.49 353.59,187.80 358.94,183.16 352.71,182.85" fill="#4534e5"/>
<polygon points="434.61,126.94 440.84,122.16 446.19,113.27 439.96,118.05" fill="#06b5cf"/>
<polygon points="446.19,113.27 452.42,107.85 457.76,98.36 451.53,103.78" fill="#29c3aa"/>
<polygon points="423.04,139.36 429.27,135.22 434.61,126.94 428.38,131.08" fill="#22a1e4"/>
<polygon points="457.76,98.36 463.99,92.30 469.34,82.20 463.11,88.26" fill="#5ecc74"/>
<polygon points="411.47,150.55 417.70,147.04 423.04,139.36 416.81,142.87" fill="#2d8cf3"/>
<polygon points="399.89,160.48 406.12,157.61 411.47,150.55 405.23,153.42" fill="#3875fe"/>
<polygon points="388.32,169.18 394.55,166.94 399.89,160.48 393.66,162.72" fill="#4661fc"/>
<polygon points="376.74,176.63 382.97,175.03 388.32,169.18 382.09,170.78" fill="#484ff4"/>
<polygon points="365.17,182.84 371.40,181.88 376.74,176.63 370.51,177.59" fill="#4740ec"/>
<polygon points="353.59,187.80 359.82,187.48 365.17,182.84 358.94,183.16" fill="#4535e5"/>
<polygon points="342.02,191.52 348.25,191.84 353.59,187.80 347.36,187.49" fill="#432ee0"/>
<polygon points="440.84,122.16 447.07,116.74 452.42,107.85 446.19,113.27" fill="#05bbc1"/>
<polygon points="429.27,135.22 435.50,130.43 440.84,122.16 434.61,126.94" fill="#1caadf"/>
<polygon points="452.42,107.85 458.65,101.79 463.99,92.30 457.76,98.36" fill="#37c897"/>
<polygon points="417.70,147.04 423.93,142.89 429.27,135.22 423.04,139.36" fill="#2994ed"/>
<polygon points="463.99,92.30 470.22,85.61 475.57,75.51 469.34,82.20" fill="#83cc57"/>
<polygon points="406.12,157.61 412.35,154.10 417.70,147.04 411.47,150.55" fill="#317efb"/>
<polygon points="394.55,166.94 400.78,164.07 406.12,157.61 399.89,160.48" fill="#4367fd"/>
<polygon points="382.97,175.03 389.20,172.80 394.55,166.94 388.32,169.18" fill="#4755f6"/>
<polygon points="371.40,181.88 377.63,180.28 382.97,175.03 376.74,176.63" fill="#4744ee"/>
<polygon points="359.82,187.48 366.05,186.52 371.40,181.88 365.17,182.84" fill="#4637e6"/>
<polygon points="348.25,191.84 354.48,191.51 359.82,187.48 353.59,187.80" fill="#432fe0"/>
<polygon points="336.68,194.95 342.91,195.26 348.25,191.84 342.02,191.52" fill="#412add"/>
<polygon points="435.50,130.43 441.73,125.02 447.07,116.74 440.84,122.16" fill="#0eb2d4"/>
<polygon points="423.93,142.89 430.16,138.11 435.50,130.43 429.27,135.22" fill="#249de6"/>
<polygon points="447.07,116.74 453.31,110.68 458.65,101.79 452.42,107.85" fill="#21c1b0"/>
<polygon points="412.35,154.10 418.58,149.96 423.93,142.89 417.70,147.04" fill="#2e87f7"/>
<polygon points="458.65,101.79 464.88,95.10 470.22,85.61 463.99,92.30" fill="#53cc7d"/>
<polygon points="400.78,164.07 407.01,160.56 412.35,154.10 406.12,157.61" fill="#3e70ff"/>
<polygon points="470.22,85.61 476.45,78.28 481.80,68.18 475.57,75.51" fill="#adc638"/>
<polygon points="389.20,172.80 395.43,169.93 400.78,164.07 394.55,166.94" fill="#475bfa"/>
<polygon points="377.63,180.28 383.86,178.04 389.20,172.80 382.97,175.03" fill="#4849f1"/>
<polygon points="366.05,186.52 372.29,184.92 377.63,180.28 371.40,181.88" fill="#463ae9"/>
<polygon points="354.48,191.51 360.71,190.55 366.05,186.52 359.82,187.48" fill="#4430e2"/>
<polygon points="342.91,195.26 349.14,194.94 354.48,191.51 348.25,191.84" fill="#412ade"/>
<polygon points="331.33,197.77 337.56,198.09 342.91,195.26 336.68,194.95" fill="#4026dd"/>
<polygon points="430.16,138.11 436.39,132.69 441.73,125.02 435.50,130.43" fill="#1ea7e1"/>
<polygon points="441.73,125.02 447.96,118.96 453.31,110.68 447.07,116.74" fill="#02bac5"/>
<polygon points="418.58,149.96 424.81,145.17 430.16,138.11 423.93,142.89" fill="#2b91ef"/>
<polygon points="453.31,110.68 459.54,103.98 464.88,95.10 458.65,101.79" fill="#34c79c"/>
<polygon points="407.01,160.56 413.24,156.42 418.58,149.96 412.35,154.10" fill="#347afd"/>
<polygon points="464.88,95.10 471.11,87.77 476.45,78.28 470.22,85.61" fill="#7bcc5d"/>
<polygon points="395.43,169.93 401.66,166.42 407.01,160.56 400.78,164.07" fill="#4563fd"/>
<polygon points="476.45,78.28 482.69,70.31 488.03,60.21 481.80,68.18" fill="#d4bf28"/>
<polygon points="383.86,178.04 390.09,175.17 395.43,169.93 389.20,172.80" fill="#4850f4"/>
<polygon points="372.29,184.92 378.52,182.69 383.86,178.04 377.63,180.28" fill="#4740ec"/>
<polygon points="360.71,190.55 366.94,188.95 372.29,184.92 366.05,186.52" fill="#4533e4"/>
<polygon points="349.14,194.94 355.37,193.98 360.71,190.55 354.48,191.51" fill="#422cde"/>
<polygon points="337.56,198.09 343.79,197.76 349.14,194.94 342.91,195.26" fill="#4027dd"/>
<polygon points="325.99,199.99 332.22,200.30 337.56,198.09 331.33,197.77" fill="#3e24dc"/>
<polygon points="436.39,132.69 442.62,126.63 447.96,118.96 441.73,125.02" fill="#12b1d6"/>
<polygon points="424.81,145.17 431.04,139.75 436.39,132.69 430.16,138.11" fill="#259ce7"/>
<polygon points="447.96,118.96 454.19,112.26 459.54,103.98 453.31,110.68" fill="#1dc0b3"/>
<polygon points="413.24,156.42 419.47,151.63 424.81,145.17 418.58,149.96" fill="#2e85f8"/>
<polygon points="459.54,103.98 465.77,96.65 471.11,87.77 464.88,95.10" fill="#4fcc81"/>
<polygon points="401.66,166.42 407.89,162.27 413.24,156.42 407.01,160.56" fill="#406dfe"/>
<polygon points="471.11,87.77 477.34,79.80 482.69,70.31 476.45,78.28" fill="#a8c73b"/>
<polygon points="390.09,175.17 396.32,171.66 401.66,166.42 395.43,169.93" fill="#4759f8"/>
<polygon points="482.69,70.31 488.92,61.70 494.26,51.60 488.03,60.21" fill="#f5ba3b"/>
<polygon points="378.52,182.69 384.75,179.81 390.09,175.17 383.86,178.04" fill="#4847f0"/>
<polygon points="366.94,188.95 373.17,186.72 378.52,182.69 372.29,184.92" fill="#4638e7"/>
<polygon points="355.37,193.98 361.60,192.38 366.94,188.95 360.71,190.55" fill="#432fe0"/>
<polygon points="343.79,197.76 350.02,196.80 355.37,193.98 349.14,194.94" fill="#4128dd"/>
<polygon points="332.22,200.30 338.45,199.98 343.79,197.76 337.56,198.09" fill="#3f24dc"/>
<polygon points="320.64,201.60 326.87,201.91 332.22,200.30 325.99,199.99" fill="#3e23dc"/>
<polygon points="431.04,139.75 437.27,133.70 442.62,126.63 436.39,132.69" fill="#1ea7e1"/>
<polygon points="442.62,126.63 448.85,119.94 454.19,112.26 447.96,118.96" fill="#01b9c6"/>
<polygon points="419.47,151.63 425.70,146.21 431.04,139.75 424.81,145.17" fill="#2b90f0"/>
<polygon points="454.19,112.26 460.42,104.93 465.77,96.65 459.54,103.98" fill="#33c79d"/>
<polygon points="407.89,162.27 414.13,157.49 419.47,151.63 413.24,156.42" fill="#3579fd"/>
<polygon points="465.77,96.65 472.00,88.69 477.34,79.80 471.11,87.77" fill="#79cc5e"/>
<polygon points="396.32,171.66 402.55,167.52 407.89,162.27 401.66,166.42" fill="#4562fc"/>
<polygon points="477.34,79.80 483.57,71.19 488.92,61.70 482.69,70.31" fill="#d3bf27"/>
<polygon points="384.75,179.81 390.98,176.30 396.32,171.66 390.09,175.17" fill="#484ff4"/>
<polygon points="488.92,61.70 495.15,52.46 500.49,42.36 494.26,51.60" fill="#fdcb32"/>
<polygon points="373.17,186.72 379.40,183.85 384.75,179.81 378.52,182.69" fill="#473eeb"/>
<polygon points="361.60,192.38 367.83,190.15 373.17,186.72 366.94,188.95" fill="#4532e3"/>
<polygon points="350.02,196.80 356.25,195.20 361.60,192.38 355.37,193.98" fill="#422bde"/>
<polygon points="338.45,199.98 344.68,199.02 350.02,196.80 343.79,197.76" fill="#3f26dd"/>
<polygon points="326.87,201.91 333.11,201.59 338.45,199.98 332.22,200.30" fill="#3e23dc"/>
<polygon points="315.30,202.60 321.53,202.91 326.87,201.91 320.64,201.60" fill="#3e23dc"/>
<polygon points="437.27,133.70 443.50,127.00 448.85,119.94 442.62,126.63" fill="#10b2d5"/>
<polygon points="425.70,146.21 431.93,140.16 437.27,133.70 431.04,139.75" fill="#259ce7"/>
<polygon points="448.85,119.94 455.08,112.61 460.42,104.93 454.19,112.26" fill="#1fc0b2"/>
<polygon points="414.13,157.49 420.36,152.07 425.70,146.21 419.47,151.63" fill="#2e85f8"/>
<polygon points="460.42,104.93 466.65,96.96 472.00,88.69 465.77,96.65" fill="#50cc7f"/>
<polygon points="402.55,167.52 408.78,162.73 414.13,157.49 407.89,162.27" fill="#3f6efe"/>
<polygon points="472.00,88.69 478.23,80.08 483.57,71.19 477.34,79.80" fill="#aac739"/>
<polygon points="390.98,176.30 397.21,172.16 402.55,167.52 396.32,171.66" fill="#475af9"/>
<polygon points="483.57,71.19 489.80,61.95 495.15,52.46 488.92,61.70" fill="#f7ba3c"/>
<polygon points="379.40,183.85 385.63,180.34 390.98,176.30 384.75,179.81" fill="#4847f0"/>
<polygon points="367.83,190.15 374.06,187.28 379.40,183.85 373.17,186.72" fill="#4638e7"/>
<polygon points="356.25,195.20 362.48,192.97 367.83,190.15 361.60,192.38" fill="#432fe0"/>
<polygon points="344.68,199.02 350.91,197.42 356.25,195.20 350.02,196.80" fill="#4128dd"/>
<polygon points="333.11,201.59 339.34,200.63 344.68,199.02 338.45,199.98" fill="#3f24dc"/>
<polygon points="321.53,202.91 327.76,202.59 333.11,201.59 326.87,201.91" fill="#3e23dc"/>
<polygon points="431.93,140.16 438.16,133.46 443.50,127.00 437.27,133.70" fill="#1da8e0"/>
<polygon points="443.50,127.00 449.74,119.67 455.08,112.61 448.85,119.94" fill="#02bbc3"/>
<polygon points="420.36,152.07 426.59,146.01 431.93,140.16 425.70,146.21" fill="#2b92ee"/>
<polygon points="455.08,112.61 461.31,104.64 466.65,96.96 460.42,104.93" fill="#36c799"/>
<polygon points="408.78,162.73 415.01,157.31 420.36,152.07 414.13,157.49" fill="#337bfc"/>
<polygon points="466.65,96.96 472.88,88.36 478.23,80.08 472.00,88.69" fill="#7fcc5a"/>
<polygon points="397.21,172.16 403.44,167.38 408.78,162.73 402.55,167.52" fill="#4464fd"/>
<polygon points="478.23,80.08 484.46,70.84 489.80,61.95 483.57,71.19" fill="#d8be28"/>
<polygon points="385.63,180.34 391.86,176.19 397.21,172.16 390.98,176.30" fill="#4851f5"/>
<polygon points="374.06,187.28 380.29,183.77 385.63,180.34 379.40,183.85" fill="#4740ec"/>
<polygon points="362.48,192.97 368.72,190.10 374.06,187.28 367.83,190.15" fill="#4534e4"/>
<polygon points="350.91,197.42 357.14,195.18 362.48,192.97 356.25,195.20" fill="#422cdf"/>
<polygon points="339.34,200.63 345.57,199.03 350.91,197.42 344.68,199.02" fill="#4027dd"/>
<polygon points="327.76,202.59 333.99,201.63 339.34,200.63 333.11,201.59" fill="#3e24dc"/>
<polygon points="438.16,133.46 444.39,126.13 449.74,119.67 443.50,127.00" fill="#0ab4d2"/>
<polygon points="426.59,146.01 432.82,139.32 438.16,133.46 431.93,140.16" fill="#249fe5"/>
<polygon points="449.74,119.67 455.97,111.70 461.31,104.64 455.08,112.61" fill="#25c2ad"/>
<polygon points="415.01,157.31 421.24,151.26 426.59,146.01 420.36,152.07" fill="#2d89f6"/>
<polygon points="461.31,104.64 467.54,96.03 472.88,88.36 466.65,96.96" fill="#59cc78"/>
<polygon points="403.44,167.38 409.67,161.96 415.01,157.31 408.78,162.73" fill="#3c71ff"/>
<polygon points="472.88,88.36 479.12,79.12 484.46,70.84 478.23,80.08" fill="#b3c534"/>
<polygon points="391.86,176.19 398.09,171.41 403.44,167.38 397.21,172.16" fill="#465dfa"/>
<polygon points="380.29,183.77 386.52,179.62 391.86,176.19 385.63,180.34" fill="#484bf2"/>
<polygon points="368.72,190.10 374.95,186.59 380.29,183.77 374.06,187.28" fill="#463be9"/>
<polygon points="357.14,195.18 363.37,192.31 368.72,190.10 362.48,192.97" fill="#4431e2"/>
<polygon points="345.57,199.03 351.80,196.79 357.14,195.18 350.91,197.42" fill="#422bde"/>
<polygon points="333.99,201.63 340.22,200.03 345.57,199.03 339.34,200.63" fill="#4026dd"/>
<polygon points="432.82,139.32 439.05,131.99 444.39,126.13 438.16,133.46" fill="#1aacdd"/>
<polygon points="444.39,126.13 450.62,118.16 455.97,111.70 449.74,119.67" fill="#0abdbd"/>
<polygon points="421.24,151.26 427.47,144.56 432.82,139.32 426.59,146.01" fill="#2796eb"/>
<polygon points="455.97,111.70 462.20,103.10 467.54,96.03 461.31,104.64" fill="#3cc991"/>
<polygon points="409.67,161.96 415.90,155.90 421.24,151.26 415.01,157.31" fill="#3080fa"/>
<polygon points="467.54,96.03 473.77,86.79 479.12,79.12 472.88,88.36" fill="#8dcb50"/>
<polygon points="398.09,171.41 404.32,165.99 409.67,161.96 403.44,167.38" fill="#4269fe"/>
<polygon points="386.52,179.62 392.75,174.84 398.09,171.41 391.86,176.19" fill="#4756f7"/>
<polygon points="374.95,186.59 381.18,182.44 386.52,179.62 380.29,183.77" fill="#4745ef"/>
<polygon points="363.37,192.31 369.60,188.80 374.95,186.59 368.72,190.10" fill="#4638e7"/>
<polygon points="351.80,196.79 358.03,193.92 363.37,192.31 357.14,195.18" fill="#442fe1"/>
<polygon points="340.22,200.03 346.45,197.80 351.80,196.79 345.57,199.03" fill="#412ade"/>
<polygon points="439.05,131.99 445.28,124.02 450.62,118.16 444.39,126.13" fill="#02b7cb"/>
<polygon points="427.47,144.56 433.70,137.23 439.05,131.99 432.82,139.32" fill="#20a4e3"/>
<polygon points="450.62,118.16 456.85,109.56 462.20,103.10 455.97,111.70" fill="#2ec4a5"/>
<polygon points="415.90,155.90 422.13,149.20 427.47,144.56 421.24,151.26" fill="#2c8ef1"/>
<polygon points="462.20,103.10 468.43,93.86 473.77,86.79 467.54,96.03" fill="#68cd6c"/>
<polygon points="404.32,165.99 410.56,159.93 415.90,155.90 409.67,161.96" fill="#3678fd"/>
<polygon points="392.75,174.84 398.98,169.42 404.32,165.99 398.09,171.41" fill="#4563fc"/>
<polygon points="381.18,182.44 387.41,177.66 392.75,174.84 386.52,179.62" fill="#4851f5"/>
<polygon points="369.60,188.80 375.83,184.66 381.18,182.44 374.95,186.59" fill="#4742ed"/>
<polygon points="358.03,193.92 364.26,190.41 369.60,188.80 363.37,192.31" fill="#4636e6"/>
<polygon points="346.45,197.80 352.68,194.92 358.03,193.92 351.80,196.79" fill="#432fe1"/>
<polygon points="433.70,137.23 439.94,129.26 445.28,124.02 439.05,131.99" fill="#11b1d6"/>
<polygon points="445.28,124.02 451.51,115.41 456.85,109.56 450.62,118.16" fill="#1cc0b4"/>
<polygon points="422.13,149.20 428.36,141.87 433.70,137.23 427.47,144.56" fill="#259de7"/>
<polygon points="456.85,109.56 463.08,100.32 468.43,93.86 462.20,103.10" fill="#4acb84"/>
<polygon points="410.56,159.93 416.79,153.24 422.13,149.20 415.90,155.90" fill="#2d87f7"/>
<polygon points="398.98,169.42 405.21,163.36 410.56,159.93 404.32,165.99" fill="#3c71ff"/>
<polygon points="387.41,177.66 393.64,172.24 398.98,169.42 392.75,174.84" fill="#465efb"/>
<polygon points="375.83,184.66 382.06,179.88 387.41,177.66 381.18,182.44" fill="#484df3"/>
<polygon points="364.26,190.41 370.49,186.27 375.83,184.66 369.60,188.80" fill="#473fec"/>
<polygon points="352.68,194.92 358.91,191.42 364.26,190.41 358.03,193.92" fill="#4535e5"/>
<polygon points="439.94,129.26 446.17,120.66 451.51,115.41 445.28,124.02" fill="#06bcc0"/>
<polygon points="428.36,141.87 434.59,133.91 439.94,129.26 433.70,137.23" fill="#1aabdd"/>
<polygon points="451.51,115.41 457.74,106.17 463.08,100.32 456.85,109.56" fill="#37c897"/>
<polygon points="416.79,153.24 423.02,145.91 428.36,141.87 422.13,149.20" fill="#2796eb"/>
<polygon points="405.21,163.36 411.44,156.67 416.79,153.24 410.56,159.93" fill="#2f81fa"/>
<polygon points="393.64,172.24 399.87,166.18 405.21,163.36 398.98,169.42" fill="#406cfe"/>
<polygon points="382.06,179.88 388.29,174.46 393.64,172.24 387.41,177.66" fill="#475bf9"/>
<polygon points="370.49,186.27 376.72,181.48 382.06,179.88 375.83,184.66" fill="#484bf2"/>
<polygon points="358.91,191.42 365.14,187.27 370.49,186.27 364.26,190.41" fill="#473feb"/>
<polygon points="434.59,133.91 440.82,125.30 446.17,120.66 439.94,129.26" fill="#02b7ca"/>
<polygon points="446.17,120.66 452.40,111.42 457.74,106.17 451.51,115.41" fill="#2dc4a6"/>
<polygon points="423.02,145.91 429.25,137.94 434.59,133.91 428.36,141.87" fill="#1fa5e2"/>
<polygon points="411.44,156.67 417.67,149.34 423.02,145.91 416.79,153.24" fill="#2b91ef"/>
<polygon points="399.87,166.18 406.10,159.49 411.44,156.67 405.21,163.36" fill="#327dfc"/>
<polygon points="388.29,174.46 394.52,168.40 399.87,166.18 393.64,172.24" fill="#4369fe"/>
<polygon points="376.72,181.48 382.95,176.06 388.29,174.46 382.06,179.88" fill="#4759f8"/>
<polygon points="365.14,187.27 371.38,182.49 376.72,181.48 370.49,186.27" fill="#484af1"/>
<polygon points="440.82,125.30 447.05,116.06 452.40,111.42 446.17,120.66" fill="#1fc0b1"/>
<polygon points="429.25,137.94 435.48,129.33 440.82,125.30 434.59,133.91" fill="#0cb3d3"/>
<polygon points="417.67,149.34 423.90,141.37 429.25,137.94 423.02,145.91" fill="#23a0e5"/>
<polygon points="406.10,159.49 412.33,152.16 417.67,149.34 411.44,156.67" fill="#2d8df2"/>
<polygon points="394.52,168.40 400.75,161.70 406.10,159.49 399.87,166.18" fill="#3579fd"/>
<polygon points="382.95,176.06 389.18,170.01 394.52,168.40 388.29,174.46" fill="#4366fd"/>
<polygon points="371.38,182.49 377.61,177.07 382.95,176.06 376.72,181.48" fill="#4758f8"/>
<polygon points="435.48,129.33 441.71,120.09 447.05,116.06 440.82,125.30" fill="#0ebebb"/>
<polygon points="423.90,141.37 430.13,132.76 435.48,129.33 429.25,137.94" fill="#15afd9"/>
<polygon points="412.33,152.16 418.56,144.19 423.90,141.37 417.67,149.34" fill="#259ce7"/>
<polygon points="400.75,161.70 406.99,154.37 412.33,152.16 406.10,159.49" fill="#2d89f5"/>
<polygon points="389.18,170.01 395.41,163.31 400.75,161.70 394.52,168.40" fill="#3777fe"/>
<polygon points="377.61,177.07 383.84,171.01 389.18,170.01 382.95,176.06" fill="#4466fd"/>
<polygon points="430.13,132.76 436.37,123.52 441.71,120.09 435.48,129.33" fill="#03bbc2"/>
<polygon points="418.56,144.19 424.79,135.58 430.13,132.76 423.90,141.37" fill="#1aacdd"/>
<polygon points="406.99,154.37 413.22,146.41 418.56,144.19 412.33,152.16" fill="#269ae9"/>
<polygon points="395.41,163.31 401.64,155.98 406.99,154.37 400.75,161.70" fill="#2d87f6"/>
<polygon points="383.84,171.01 390.07,164.32 395.41,163.31 389.18,170.01" fill="#3876fe"/>
<polygon points="424.79,135.58 431.02,126.34 436.37,123.52 430.13,132.76" fill="#01b9c8"/>
<polygon points="413.22,146.41 419.45,137.80 424.79,135.58 418.56,144.19" fill="#1ca9df"/>
<polygon points="401.64,155.98 407.87,148.01 413.22,146.41 406.99,154.37" fill="#2798ea"/>
<polygon points="390.07,164.32 396.30,156.98 401.64,155.98 395.41,163.31" fill="#2e87f7"/>
<polygon points="419.45,137.80 425.68,128.56 431.02,126.34 424.79,135.58" fill="#03b7cc"/>
<polygon points="407.87,148.01 414.10,139.41 419.45,137.80 413.22,146.41" fill="#1da8e0"/>
<polygon points="396.30,156.98 402.53,149.02 407.87,148.01 401.64,155.98" fill="#2797eb"/>
<polygon points="414.10,139.41 420.33,130.17 425.68,128.56 419.45,137.80" fill="#05b6ce"/>
<polygon points="402.53,149.02 408.76,140.41 414.10,139.41 407.87,148.01" fill="#1ea7e1"/>
<polygon points="408.76,140.41 414.99,131.17 420.33,130.17 414.10,139.41" fill="#06b5cf"/>
</g>
<g fill="#ff00ff">
<circle cx="359.7" cy="177.2" r="1.3"/>
<circle cx="367.9" cy="175.8" r="1.3"/>
<circle cx="369.2" cy="177.4" r="1.3"/>
<circle cx="353.5" cy="180.8" r="1.3"/>
<circle cx="358.9" cy="182.9" r="1.3"/>
<circle cx="366.9" cy="183.2" r="1.3"/>
<circle cx="358.8" cy="188.6" r="1.3"/>
<circle cx="370.9" cy="189.1" r="1.3"/>
<circle cx="364.8" cy="192.3" r="1.3"/>
<circle cx="367.0" cy="193.0" r="1.3"/>
<circle cx="370.0" cy="193.0" r="1.3"/>
<circle cx="340.9" cy="191.5" r="1.3"/>
<circle cx="341.4" cy="195.4" r="1.3"/>
<circle cx="341.0" cy="197.5" r="1.3"/>
<circle cx="346.2" cy="195.6" r="1.3"/>
<circle cx="352.5" cy="195.6" r="1.3"/>
<circle cx="354.4" cy="193.8" r="1.3"/>
<circle cx="338.2" cy="198.6" r="1.3"/>
<circle cx="342.5" cy="199.7" r="1.3"/>
<circle cx="348.1" cy="199.3" r="1.3"/>
<circle cx="350.0" cy="201.1" r="1.3"/>
<circle cx="336.0" cy="201.7" r="1.3"/>
<circle cx="337.3" cy="201.9" r="1.3"/>
<circle cx="332.6" cy="201.9" r="1.3"/>
<circle cx="330.6" cy="201.8" r="1.3"/>
<circle cx="373.9" cy="183.8" r="1.3"/>
<circle cx="381.0" cy="151.7" r="1.3"/>
<circle cx="380.3" cy="156.5" r="1.3"/>
<circle cx="395.6" cy="159.7" r="1.3"/>
<circle cx="396.0" cy="162.6" r="1.3"/>
<circle cx="402.0" cy="155.2" r="1.3"/>
<circle cx="408.1" cy="154.5" r="1.3"/>
<circle cx="410.2" cy="155.6" r="1.3"/>
<circle cx="413.6" cy="151.8" r="1.3"/>
<circle cx="416.9" cy="156.3" r="1.3"/>
<circle cx="417.2" cy="157.4" r="1.3"/>
<circle cx="402.8" cy="162.6" r="1.3"/>
<circle cx="406.5" cy="161.9" r="1.3"/>
<circle cx="408.7" cy="162.6" r="1.3"/>
<circle cx="410.6" cy="161.9" r="1.3"/>
<circle cx="405.7" cy="165.2" r="1.3"/>
<circle cx="407.5" cy="164.1" r="1.3"/>
<circle cx="403.9" cy="167.9" r="1.3"/>
<circle cx="393.4" cy="167.1" r="1.3"/>
<circle cx="402.3" cy="169.3" r="1.3"/>
<circle cx="376.6" cy="173.0" r="1.3"/>
<circle cx="383.2" cy="178.6" r="1.3"/>
<circle cx="385.4" cy="176.6" r="1.3"/>
<circle cx="389.2" cy="177.7" r="1.3"/>
<circle cx="391.5" cy="178.6" r="1.3"/>
<circle cx="378.6" cy="184.9" r="1.3"/>
<circle cx="380.8" cy="185.6" r="1.3"/>
<circle cx="375.6" cy="187.1" r="1.3"/>
<circle cx="417.7" cy="113.9" r="1.3"/>
<circle cx="408.4" cy="120.2" r="1.3"/>
<circle cx="405.4" cy="122.4" r="1.3"/>
<circle cx="397.9" cy="125.7" r="1.3"/>
<circle cx="413.0" cy="123.4" r="1.3"/>
<circle cx="411.0" cy="127.4" r="1.3"/>
<circle cx="417.5" cy="128.2" r="1.3"/>
<circle cx="418.7" cy="127.8" r="1.3"/>
<circle cx="386.7" cy="137.5" r="1.3"/>
<circle cx="394.5" cy="136.0" r="1.3"/>
<circle cx="397.5" cy="140.4" r="1.3"/>
<circle cx="406.1" cy="141.9" r="1.3"/>
<circle cx="412.8" cy="145.6" r="1.3"/>
<circle cx="415.8" cy="144.0" r="1.3"/>
<circle cx="411.2" cy="136.0" r="1.3"/>
<circle cx="421.9" cy="110.4" r="1.3"/>
<circle cx="424.9" cy="112.6" r="1.3"/>
<circle cx="422.6" cy="111.9" r="1.3"/>
<circle cx="437.5" cy="105.9" r="1.3"/>
<circle cx="443.4" cy="110.7" r="1.3"/>
<circle cx="427.1" cy="122.3" r="1.3"/>
<circle cx="437.5" cy="126.0" r="1.3"/>
<circle cx="444.9" cy="121.5" r="1.3"/>
<circle cx="446.4" cy="122.3" r="1.3"/>
<circle cx="447.9" cy="120.8" r="1.3"/>
<circle cx="449.4" cy="118.6" r="1.3"/>
<circle cx="451.6" cy="117.8" r="1.3"/>
<circle cx="453.1" cy="118.6" r="1.3"/>
<circle cx="455.3" cy="114.9" r="1.3"/>
<circle cx="461.7" cy="106.5" r="1.3"/>
<circle cx="462.7" cy="107.4" r="1.3"/>
<circle cx="463.6" cy="104.2" r="1.3"/>
<circle cx="460.7" cy="100.4" r="1.3"/>
<circle cx="443.4" cy="128.2" r="1.3"/>
<circle cx="442.6" cy="130.9" r="1.3"/>
<circle cx="433.3" cy="132.1" r="1.3"/>
<circle cx="437.4" cy="133.9" r="1.3"/>
<circle cx="438.2" cy="136.4" r="1.3"/>
<circle cx="434.1" cy="136.9" r="1.3"/>
<circle cx="424.1" cy="139.3" r="1.3"/>
<circle cx="494.5" cy="49.8" r="1.3"/>
<circle cx="485.5" cy="71.0" r="1.3"/>
<circle cx="484.2" cy="72.5" r="1.3"/>
<circle cx="455.6" cy="95.4" r="1.3"/>
<circle cx="467.3" cy="91.1" r="1.3"/>
<circle cx="466.7" cy="93.4" r="1.3"/>
<circle cx="469.0" cy="95.0" r="1.3"/>
<circle cx="469.0" cy="99.5" r="1.3"/>
<circle cx="460.1" cy="103.4" r="1.3"/>
<circle cx="453.9" cy="108.7" r="1.3"/>
<circle cx="436.6" cy="136.7" r="1.3"/>
<circle cx="421.0" cy="142.6" r="1.3"/>
<circle cx="429.9" cy="144.1" r="1.3"/>
<circle cx="426.9" cy="147.1" r="1.3"/>
<circle cx="414.3" cy="157.5" r="1.3"/>
<circle cx="397.2" cy="158.2" r="1.3"/>
<circle cx="342.8" cy="197.8" r="1.3"/>
</g>
<defs><linearGradient id="cb1" x1="0" y1="1" x2="0" y2="0"><stop offset="0.0000" stop-color="#3e23dc"/><stop offset="0.0156" stop-color="#4027dd"/><stop offset="0.0312" stop-color="#422bde"/><stop offset="0.0469" stop-color="#432fe1"/><stop offset="0.0625" stop-color="#4533e4"/><stop offset="0.0781" stop-color="#4639e8"/><stop offset="0.0938" stop-color="#473eeb"/><stop offset="0.1094" stop-color="#4744ee"/><stop offset="0.1250" stop-color="#484af1"/><stop offset="0.1406" stop-color="#4851f4"/><stop offset="0.1562" stop-color="#4757f7"/><stop offset="0.1719" stop-color="#475dfa"/><stop offset="0.1875" stop-color="#4562fc"/><stop offset="0.2031" stop-color="#4368fe"/><stop offset="0.2188" stop-color="#3f6efe"/><stop offset="0.2344" stop-color="#3a74fe"/><stop offset="0.2500" stop-color="#347afd"/><stop offset="0.2656" stop-color="#3080fa"/><stop offset="0.2812" stop-color="#2e85f8"/><stop offset="0.2969" stop-color="#2d8bf4"/><stop offset="0.3125" stop-color="#2c90f0"/><stop offset="0.3281" stop-color="#2895ec"/><stop offset="0.3438" stop-color="#269ae9"/><stop offset="0.3594" stop-color="#249ee6"/><stop offset="0.3750" stop-color="#21a3e3"/><stop offset="0.3906" stop-color="#1ea7e1"/><stop offset="0.4062" stop-color="#1aacdd"/><stop offset="0.4219" stop-color="#14b0d8"/><stop offset="0.4375" stop-color="#0cb3d3"/><stop offset="0.4531" stop-color="#04b6cd"/><stop offset="0.4688" stop-color="#01b9c6"/><stop offset="0.4844" stop-color="#07bcc0"/><stop offset="0.5000" stop-color="#12beb9"/><stop offset="0.5156" stop-color="#1ec0b2"/><stop offset="0.5312" stop-color="#28c2ab"/><stop offset="0.5469" stop-color="#2ec5a4"/><stop offset="0.5625" stop-color="#34c79c"/><stop offset="0.5781" stop-color="#3ac993"/><stop offset="0.5938" stop-color="#44ca8a"/><stop offset="0.6094" stop-color="#4fcc80"/><stop offset="0.6250" stop-color="#5ccc76"/><stop offset="0.6406" stop-color="#69cd6b"/><stop offset="0.6562" stop-color="#77cc60"/><stop offset="0.6719" stop-color="#85cb55"/><stop offset="0.6875" stop-color="#94ca4a"/><stop offset="0.7031" stop-color="#a2c840"/><stop offset="0.7188" stop-color="#afc637"/><stop offset="0.7344" stop-color="#bcc42f"/><stop offset="0.7500" stop-color="#c8c129"/><stop offset="0.7656" stop-color="#d4bf28"/><stop offset="0.7812" stop-color="#debc2a"/><stop offset="0.7969" stop-color="#e8bb2f"/><stop offset="0.8125" stop-color="#f1ba37"/><stop offset="0.8281" stop-color="#f9bb3d"/><stop offset="0.8438" stop-color="#febe3c"/><stop offset="0.8594" stop-color="#fec437"/><stop offset="0.8750" stop-color="#feca33"/><stop offset="0.8906" stop-color="#fcd030"/><stop offset="0.9062" stop-color="#f9d62d"/><stop offset="0.9219" stop-color="#f7dd2a"/><stop offset="0.9375" stop-color="#f5e327"/><stop offset="0.9531" stop-color="#f5e924"/><stop offset="0.9688" stop-color="#f6ef20"/><stop offset="0.9844" stop-color="#f7f51b"/><stop offset="1.0000" stop-color="#f9fb15"/></linearGradient></defs>
<rect x="519.1" y="16.15" width="10.80" height="196.25" fill="url(#cb1)" stroke="#262626" stroke-width="0.5"/>
<line x1="527.90" y1="191.57" x2="529.90" y2="191.57" stroke="#262626" stroke-width="0.5"/>
<text transform="translate(532.70 191.77) scale(1 1.18)" font-size="8" text-anchor="start" dominant-baseline="central">2</text>
<line x1="527.90" y1="169.98" x2="529.90" y2="169.98" stroke="#262626" stroke-width="0.5"/>
<text transform="translate(532.70 170.18) scale(1 1.18)" font-size="8" text-anchor="start" dominant-baseline="central">4</text>
<line x1="527.90" y1="148.39" x2="529.90" y2="148.39" stroke="#262626" stroke-width="0.5"/>
<text transform="translate(532.70 148.59) scale(1 1.18)" font-size="8" text-anchor="start" dominant-baseline="central">6</text>
<line x1="527.90" y1="126.80" x2="529.90" y2="126.80" stroke="#262626" stroke-width="0.5"/>
<text transform="translate(532.70 127.00) scale(1 1.18)" font-size="8" text-anchor="start" dominant-baseline="central">8</text>
<line x1="527.90" y1="105.21" x2="529.90" y2="105.21" stroke="#262626" stroke-width="0.5"/>
<text transform="translate(532.70 105.41) scale(1 1.18)" font-size="8" text-anchor="start" dominant-baseline="central">10</text>
<line x1="527.90" y1="83.62" x2="529.90" y2="83.62" stroke="#262626" stroke-width="0.5"/>
<text transform="translate(532.70 83.82) scale(1 1.18)" font-size="8" text-anchor="start" dominant-baseline="central">12</text>
<line x1="527.90" y1="62.03" x2="529.90" y2="62.03" stroke="#262626" stroke-width="0.5"/>
<text transform="translate(532.70 62.23) scale(1 1.18)" font-size="8" text-anchor="start" dominant-baseline="central">14</text>
<line x1="527.90" y1="40.44" x2="529.90" y2="40.44" stroke="#262626" stroke-width="0.5"/>
<text transform="translate(532.70 40.64) scale(1 1.18)" font-size="8" text-anchor="start" dominant-baseline="central">16</text>
<line x1="527.90" y1="18.85" x2="529.90" y2="18.85" stroke="#262626" stroke-width="0.5"/>
<text transform="translate(532.70 19.05) scale(1 1.18)" font-size="8" text-anchor="start" dominant-baseline="central">18</text>
<text class="cap" x="99.4" y="256.3" font-size="12.32" textLength="16.7" lengthAdjust="spacingAndGlyphs">(<tspan font-weight="bold">a</tspan>)</text>
<text class="cap" x="119.0" y="256.3" font-size="11.00" textLength="62.1" lengthAdjust="spacingAndGlyphs">NQSSVR(p)</text>
<text class="cap" x="384.4" y="256.3" font-size="12.32" textLength="17.1" lengthAdjust="spacingAndGlyphs">(<tspan font-weight="bold">b</tspan>)</text>
<text class="cap" x="404.7" y="256.3" font-size="11.00" textLength="61.7" lengthAdjust="spacingAndGlyphs">NQSSVR(d)</text>
</svg>
</body></html>
